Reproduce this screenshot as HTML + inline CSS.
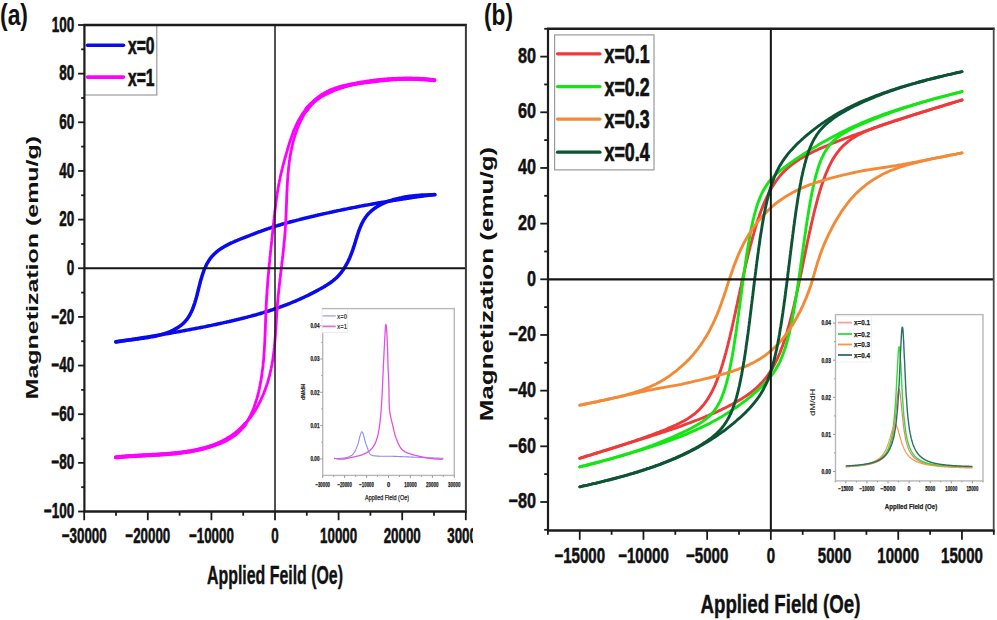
<!DOCTYPE html><html><head><meta charset="utf-8"><style>html,body{margin:0;padding:0;background:#fff;overflow:hidden}svg{display:block}text{font-family:"Liberation Sans",sans-serif}</style></head><body>
<svg width="997" height="620" viewBox="0 0 997 620">
<defs><clipPath id="ca"><rect x="0" y="0" width="473" height="620"/></clipPath></defs>
<rect width="997" height="620" fill="#fff"/>
<g clip-path="url(#ca)">
<path d="M115.9,342.0L116.9,341.9L118.0,341.7L119.0,341.5L120.1,341.4L121.1,341.2L122.2,341.0L123.3,340.8L124.3,340.7L125.4,340.5L126.4,340.3L127.5,340.2L128.5,340.0L129.6,339.8L130.7,339.7L131.7,339.5L132.8,339.3L133.8,339.2L134.9,339.0L136.0,338.8L137.0,338.7L138.1,338.5L139.2,338.3L140.2,338.1L141.3,338.0L142.3,337.8L143.4,337.6L144.5,337.5L145.5,337.3L146.6,337.1L147.7,336.9L148.7,336.8L149.8,336.6L150.8,336.4L151.9,336.2L153.0,336.1L154.0,335.9L155.1,335.7L156.2,335.5L157.2,335.4L158.3,335.2L159.4,335.0L160.4,334.8L161.5,334.6L162.6,334.5L163.6,334.3L164.7,334.1L165.8,333.9L166.8,333.7L167.9,333.5L168.9,333.4L170.0,333.2L171.1,333.0L172.1,332.8L173.2,332.6L174.3,332.4L175.3,332.2L176.4,332.1L177.5,331.9L178.5,331.7L179.6,331.5L180.7,331.3L181.7,331.1L182.8,330.9L183.8,330.7L184.9,330.5L186.0,330.3L187.0,330.1L188.1,329.9L189.2,329.7L190.2,329.5L191.3,329.3L192.3,329.1L193.4,328.9L194.5,328.7L195.5,328.5L196.6,328.3L197.6,328.1L198.7,327.9L199.8,327.7L200.8,327.5L201.9,327.3L202.9,327.1L204.0,326.9L205.1,326.7L206.1,326.4L207.2,326.2L208.2,326.0L209.3,325.8L210.3,325.6L211.4,325.4L212.4,325.1L213.5,324.9L214.5,324.7L215.6,324.5L216.7,324.2L217.7,324.0L218.8,323.8L219.8,323.6L220.9,323.3L221.9,323.1L223.0,322.9L224.0,322.6L225.0,322.4L226.1,322.2L227.1,321.9L228.2,321.7L229.2,321.5L230.3,321.2L231.3,321.0L232.4,320.7L233.4,320.5L234.4,320.3L235.5,320.0L236.5,319.8L237.6,319.5L238.6,319.3L239.6,319.0L240.7,318.8L241.7,318.5L242.8,318.2L243.8,318.0L244.8,317.7L245.9,317.4L246.9,317.2L247.9,316.9L249.0,316.6L250.0,316.4L251.0,316.1L252.1,315.8L253.1,315.5L254.1,315.2L255.1,315.0L256.2,314.7L257.2,314.4L258.2,314.1L259.3,313.8L260.3,313.5L261.3,313.2L262.3,312.9L263.4,312.6L264.4,312.3L265.4,312.0L266.4,311.6L267.5,311.3L268.5,311.0L269.5,310.7L270.5,310.3L271.5,310.0L272.6,309.7L273.6,309.3L274.6,309.0L275.6,308.6L276.6,308.3L277.6,307.9L278.7,307.6L279.7,307.2L280.7,306.8L281.7,306.5L282.7,306.1L283.7,305.7L284.8,305.3L285.8,305.0L286.8,304.6L287.8,304.2L288.8,303.8L289.8,303.4L290.8,303.0L291.8,302.5L292.8,302.1L293.9,301.7L294.9,301.3L295.9,300.9L296.9,300.4L297.9,300.0L298.9,299.5L299.9,299.1L300.9,298.6L301.9,298.2L302.9,297.7L303.9,297.3L304.9,296.8L305.9,296.3L306.9,295.8L307.9,295.4L308.9,294.9L309.8,294.4L310.8,293.9L311.8,293.4L312.8,292.9L313.8,292.4L314.7,291.9L315.7,291.4L316.6,290.9L317.6,290.4L318.6,289.8L319.5,289.3L320.5,288.8L321.4,288.3L322.3,287.7L323.3,287.2L324.2,286.6L325.1,286.1L326.0,285.5L326.9,285.0L327.8,284.4L328.7,283.8L329.6,283.2L330.4,282.7L331.3,282.0L332.1,281.4L332.9,280.8L333.7,280.1L334.5,279.5L335.3,278.8L336.1,278.1L336.8,277.4L337.5,276.7L338.2,276.0L338.9,275.2L339.6,274.5L340.2,273.7L340.9,272.9L341.5,272.1L342.1,271.3L342.7,270.5L343.3,269.6L343.9,268.8L344.4,267.9L345.0,267.0L345.5,266.1L346.0,265.2L346.5,264.3L347.0,263.4L347.5,262.5L348.0,261.5L348.4,260.6L348.9,259.6L349.3,258.7L349.8,257.7L350.2,256.7L350.6,255.7L351.0,254.7L351.4,253.7L351.8,252.7L352.1,251.7L352.5,250.6L352.9,249.6L353.2,248.5L353.6,247.5L353.9,246.4L354.3,245.4L354.6,244.3L354.9,243.2L355.3,242.1L355.6,241.1L355.9,240.0L356.2,238.9L356.6,237.9L356.9,236.8L357.2,235.7L357.6,234.6L357.9,233.6L358.3,232.5L358.6,231.5L359.0,230.5L359.4,229.4L359.8,228.4L360.2,227.4L360.6,226.4L361.0,225.4L361.5,224.4L361.9,223.5L362.4,222.5L362.9,221.6L363.4,220.7L363.9,219.8L364.5,218.9L365.1,218.0L365.6,217.2L366.3,216.3L366.9,215.5L367.6,214.7L368.2,214.0L368.9,213.2L369.7,212.5L370.4,211.8L371.2,211.1L371.9,210.4L372.7,209.8L373.6,209.2L374.4,208.5L375.2,207.9L376.1,207.4L377.0,206.8L377.9,206.2L378.8,205.7L379.7,205.2L380.7,204.7L381.6,204.2L382.6,203.7L383.6,203.3L384.6,202.8L385.6,202.4L386.6,202.0L387.6,201.6L388.6,201.2L389.7,200.9L390.7,200.5L391.8,200.2L392.8,199.8L393.9,199.5L395.0,199.2L396.1,198.9L397.1,198.6L398.2,198.4L399.3,198.1L400.4,197.9L401.6,197.7L402.7,197.4L403.8,197.2L404.9,197.0L406.0,196.8L407.1,196.7L408.2,196.5L409.4,196.3L410.5,196.2L411.6,196.0L412.7,195.9L413.8,195.8L414.9,195.7L416.0,195.6L417.1,195.5L418.2,195.4L419.3,195.3L420.4,195.2L421.5,195.1L422.6,195.1L423.7,195.0L424.7,195.0L425.8,194.9L426.8,194.9L427.9,194.9L428.9,194.8L429.9,194.8L430.9,194.8L431.9,194.8L432.9,194.8L433.9,194.8L434.9,194.8" fill="none" stroke="#0a0aee" stroke-width="3.50" stroke-linejoin="round" stroke-linecap="round" />
<path d="M115.9,341.7L116.9,341.5L117.8,341.4L118.7,341.3L119.7,341.1L120.7,341.0L121.6,340.9L122.6,340.8L123.6,340.6L124.7,340.5L125.7,340.4L126.8,340.3L127.8,340.2L128.9,340.0L129.9,339.9L131.0,339.8L132.1,339.7L133.2,339.5L134.3,339.4L135.4,339.3L136.6,339.1L137.7,339.0L138.8,338.9L139.9,338.7L141.1,338.6L142.2,338.4L143.4,338.2L144.5,338.1L145.6,337.9L146.8,337.7L147.9,337.5L149.1,337.3L150.2,337.1L151.3,336.9L152.5,336.7L153.6,336.5L154.7,336.2L155.9,336.0L157.0,335.7L158.1,335.4L159.2,335.2L160.3,334.9L161.4,334.6L162.5,334.3L163.5,333.9L164.6,333.6L165.7,333.2L166.7,332.9L167.7,332.5L168.8,332.1L169.8,331.7L170.8,331.3L171.7,330.8L172.7,330.4L173.7,329.9L174.6,329.4L175.5,328.9L176.4,328.4L177.3,327.9L178.2,327.3L179.1,326.7L179.9,326.1L180.7,325.5L181.5,324.9L182.3,324.2L183.0,323.6L183.8,322.9L184.5,322.1L185.2,321.4L185.8,320.7L186.5,319.9L187.1,319.1L187.7,318.2L188.3,317.4L188.8,316.5L189.3,315.7L189.9,314.8L190.4,313.8L190.8,312.9L191.3,312.0L191.7,311.0L192.2,310.0L192.6,309.0L193.0,308.0L193.4,307.0L193.7,306.0L194.1,305.0L194.5,303.9L194.8,302.9L195.1,301.8L195.4,300.7L195.8,299.6L196.1,298.6L196.4,297.5L196.7,296.4L197.0,295.3L197.3,294.2L197.5,293.0L197.8,291.9L198.1,290.8L198.4,289.7L198.6,288.6L198.9,287.5L199.2,286.4L199.5,285.2L199.8,284.1L200.1,283.0L200.3,281.9L200.6,280.8L200.9,279.7L201.3,278.6L201.6,277.6L201.9,276.5L202.2,275.4L202.6,274.4L202.9,273.3L203.3,272.3L203.6,271.3L204.0,270.2L204.4,269.2L204.8,268.2L205.3,267.3L205.7,266.3L206.2,265.4L206.6,264.4L207.1,263.5L207.6,262.6L208.2,261.7L208.7,260.8L209.3,260.0L209.8,259.1L210.4,258.3L211.1,257.5L211.7,256.7L212.4,255.9L213.1,255.2L213.8,254.5L214.5,253.8L215.3,253.1L216.0,252.4L216.8,251.7L217.6,251.1L218.4,250.4L219.3,249.8L220.1,249.2L221.0,248.6L221.9,248.1L222.8,247.5L223.7,247.0L224.6,246.4L225.6,245.9L226.5,245.4L227.5,244.9L228.4,244.4L229.4,243.9L230.4,243.4L231.4,242.9L232.4,242.5L233.4,242.0L234.4,241.6L235.4,241.1L236.5,240.7L237.5,240.3L238.5,239.8L239.6,239.4L240.6,239.0L241.6,238.6L242.7,238.2L243.7,237.8L244.7,237.4L245.8,237.0L246.8,236.6L247.8,236.2L248.9,235.8L249.9,235.4L250.9,235.0L251.9,234.6L253.0,234.2L254.0,233.8L255.0,233.4L256.1,233.0L257.1,232.6L258.1,232.2L259.1,231.8L260.1,231.5L261.2,231.1L262.2,230.7L263.2,230.4L264.2,230.0L265.3,229.6L266.3,229.3L267.3,228.9L268.3,228.6L269.4,228.2L270.4,227.9L271.4,227.5L272.4,227.2L273.5,226.9L274.5,226.5L275.5,226.2L276.5,225.9L277.6,225.6L278.6,225.3L279.6,225.0L280.7,224.7L281.7,224.3L282.7,224.0L283.8,223.8L284.8,223.5L285.9,223.2L286.9,222.9L287.9,222.6L289.0,222.3L290.0,222.0L291.0,221.7L292.1,221.5L293.1,221.2L294.2,220.9L295.2,220.7L296.3,220.4L297.3,220.1L298.3,219.9L299.4,219.6L300.4,219.3L301.5,219.1L302.5,218.8L303.6,218.5L304.6,218.3L305.7,218.0L306.7,217.8L307.8,217.5L308.8,217.3L309.9,217.0L310.9,216.8L312.0,216.5L313.0,216.3L314.1,216.0L315.1,215.8L316.2,215.5L317.2,215.3L318.3,215.0L319.3,214.8L320.4,214.6L321.5,214.3L322.5,214.1L323.6,213.8L324.6,213.6L325.7,213.4L326.7,213.1L327.8,212.9L328.9,212.7L329.9,212.4L331.0,212.2L332.0,212.0L333.1,211.7L334.2,211.5L335.2,211.3L336.3,211.1L337.4,210.8L338.4,210.6L339.5,210.4L340.5,210.2L341.6,209.9L342.7,209.7L343.7,209.5L344.8,209.3L345.9,209.1L346.9,208.9L348.0,208.6L349.1,208.4L350.1,208.2L351.2,208.0L352.3,207.8L353.3,207.6L354.4,207.4L355.5,207.2L356.5,207.0L357.6,206.8L358.7,206.6L359.7,206.3L360.8,206.1L361.9,205.9L363.0,205.7L364.0,205.5L365.1,205.3L366.2,205.1L367.2,204.9L368.3,204.8L369.4,204.6L370.4,204.4L371.5,204.2L372.6,204.0L373.7,203.8L374.7,203.6L375.8,203.4L376.9,203.2L377.9,203.0L379.0,202.8L380.1,202.7L381.2,202.5L382.2,202.3L383.3,202.1L384.4,201.9L385.4,201.8L386.5,201.6L387.6,201.4L388.7,201.2L389.7,201.0L390.8,200.9L391.9,200.7L393.0,200.5L394.0,200.3L395.1,200.2L396.2,200.0L397.2,199.8L398.3,199.7L399.4,199.5L400.5,199.3L401.5,199.2L402.6,199.0L403.7,198.8L404.8,198.7L405.8,198.5L406.9,198.3L408.0,198.2L409.0,198.0L410.1,197.9L411.2,197.7L412.3,197.6L413.3,197.4L414.4,197.2L415.5,197.1L416.5,196.9L417.6,196.8L418.7,196.6L419.8,196.5L420.8,196.3L421.9,196.2L423.0,196.0L424.0,195.9L425.1,195.7L426.2,195.6L427.3,195.5L428.3,195.3L429.4,195.2L430.5,195.0L431.5,194.9L432.6,194.8L433.7,194.6L434.7,194.5" fill="none" stroke="#0a0aee" stroke-width="3.50" stroke-linejoin="round" stroke-linecap="round" />
<path d="M115.8,457.4L116.9,457.3L118.0,457.2L119.1,457.1L120.2,457.0L121.3,456.9L122.4,456.8L123.6,456.7L124.7,456.6L125.8,456.5L127.0,456.5L128.1,456.4L129.3,456.3L130.4,456.2L131.6,456.2L132.8,456.1L133.9,456.0L135.1,456.0L136.3,455.9L137.5,455.8L138.7,455.8L139.9,455.7L141.1,455.7L142.3,455.6L143.5,455.5L144.7,455.5L146.0,455.4L147.2,455.4L148.4,455.3L149.6,455.2L150.9,455.2L152.1,455.1L153.3,455.0L154.6,455.0L155.8,454.9L157.0,454.8L158.3,454.8L159.5,454.7L160.8,454.6L162.0,454.5L163.2,454.4L164.5,454.3L165.7,454.2L167.0,454.1L168.2,454.0L169.5,453.9L170.7,453.8L172.0,453.7L173.2,453.6L174.5,453.5L175.7,453.3L176.9,453.2L178.2,453.0L179.4,452.9L180.7,452.7L181.9,452.6L183.1,452.4L184.3,452.2L185.6,452.1L186.8,451.9L188.0,451.7L189.2,451.5L190.4,451.3L191.7,451.0L192.9,450.8L194.1,450.6L195.3,450.3L196.5,450.1L197.7,449.8L198.8,449.5L200.0,449.3L201.2,449.0L202.4,448.7L203.5,448.4L204.7,448.1L205.8,447.7L207.0,447.4L208.1,447.0L209.3,446.7L210.4,446.3L211.5,445.9L212.6,445.5L213.8,445.1L214.9,444.7L215.9,444.3L217.0,443.8L218.1,443.4L219.2,442.9L220.2,442.4L221.3,441.9L222.3,441.4L223.4,440.9L224.4,440.3L225.4,439.8L226.4,439.2L227.4,438.6L228.4,438.1L229.4,437.4L230.4,436.8L231.4,436.2L232.3,435.5L233.2,434.9L234.2,434.2L235.1,433.5L236.0,432.8L236.9,432.0L237.8,431.3L238.7,430.5L239.5,429.7L240.4,428.9L241.2,428.1L242.1,427.3L242.9,426.5L243.7,425.6L244.5,424.8L245.3,423.9L246.0,423.0L246.8,422.1L247.6,421.2L248.3,420.3L249.0,419.3L249.8,418.4L250.5,417.4L251.2,416.5L251.9,415.5L252.5,414.5L253.2,413.5L253.9,412.5L254.5,411.5L255.2,410.4L255.8,409.4L256.4,408.4L257.0,407.3L257.6,406.2L258.2,405.2L258.7,404.1L259.3,403.0L259.9,401.9L260.4,400.8L260.9,399.7L261.4,398.6L261.9,397.5L262.4,396.4L262.9,395.3L263.4,394.1L263.9,393.0L264.3,391.8L264.8,390.7L265.2,389.6L265.6,388.4L266.0,387.2L266.4,386.1L266.8,384.9L267.2,383.8L267.6,382.6L267.9,381.4L268.3,380.3L268.6,379.1L268.9,377.9L269.2,376.7L269.6,375.6L269.8,374.4L270.1,373.2L270.4,372.0L270.7,370.9L270.9,369.7L271.2,368.5L271.4,367.3L271.6,366.1L271.9,365.0L272.1,363.8L272.3,362.6L272.5,361.4L272.7,360.2L272.9,359.0L273.0,357.8L273.2,356.7L273.4,355.5L273.5,354.3L273.7,353.1L273.8,351.9L274.0,350.7L274.1,349.5L274.2,348.3L274.4,347.2L274.5,346.0L274.6,344.8L274.7,343.6L274.8,342.4L274.9,341.2L275.0,340.0L275.1,338.8L275.2,337.6L275.3,336.4L275.4,335.2L275.5,334.1L275.5,332.9L275.6,331.7L275.7,330.5L275.8,329.3L275.9,328.1L275.9,326.9L276.0,325.7L276.1,324.5L276.2,323.3L276.2,322.1L276.3,320.9L276.4,319.8L276.4,318.6L276.5,317.4L276.6,316.2L276.7,315.0L276.7,313.8L276.8,312.6L276.9,311.4L277.0,310.2L277.1,309.1L277.2,307.9L277.3,306.7L277.3,305.5L277.4,304.3L277.5,303.1L277.6,301.9L277.8,300.8L277.9,299.6L278.0,298.4L278.1,297.2L278.2,296.0L278.3,294.9L278.4,293.7L278.6,292.5L278.7,291.3L278.8,290.1L278.9,289.0L279.1,287.8L279.2,286.6L279.3,285.4L279.4,284.2L279.6,283.1L279.7,281.9L279.8,280.7L280.0,279.5L280.1,278.3L280.3,277.2L280.4,276.0L280.5,274.8L280.7,273.6L280.8,272.4L281.0,271.3L281.1,270.1L281.2,268.9L281.4,267.7L281.5,266.5L281.7,265.4L281.8,264.2L281.9,263.0L282.1,261.8L282.2,260.6L282.4,259.4L282.5,258.3L282.6,257.1L282.8,255.9L282.9,254.7L283.0,253.5L283.2,252.3L283.3,251.1L283.4,250.0L283.5,248.8L283.7,247.6L283.8,246.4L283.9,245.2L284.0,244.0L284.1,242.8L284.3,241.6L284.4,240.4L284.5,239.2L284.6,238.0L284.7,236.8L284.8,235.6L284.9,234.4L285.0,233.2L285.1,232.0L285.2,230.8L285.3,229.6L285.3,228.4L285.4,227.2L285.5,226.0L285.6,224.8L285.6,223.6L285.7,222.4L285.8,221.2L285.8,219.9L285.9,218.7L286.0,217.5L286.0,216.3L286.1,215.1L286.1,213.9L286.2,212.7L286.2,211.4L286.3,210.2L286.3,209.0L286.3,207.8L286.4,206.6L286.4,205.3L286.5,204.1L286.5,202.9L286.6,201.7L286.6,200.5L286.7,199.2L286.7,198.0L286.7,196.8L286.8,195.6L286.8,194.4L286.9,193.1L286.9,191.9L287.0,190.7L287.1,189.5L287.1,188.3L287.2,187.1L287.2,185.8L287.3,184.6L287.4,183.4L287.4,182.2L287.5,181.0L287.6,179.8L287.7,178.6L287.8,177.4L287.9,176.2L287.9,175.0L288.0,173.8L288.2,172.6L288.3,171.4L288.4,170.2L288.5,169.0L288.6,167.8L288.7,166.6L288.9,165.4L289.0,164.2L289.2,163.0L289.3,161.8L289.5,160.6L289.7,159.4L289.8,158.3L290.0,157.1L290.2,155.9L290.4,154.7L290.6,153.6L290.8,152.4L291.0,151.2L291.3,150.1L291.5,148.9L291.7,147.8L292.0,146.6L292.3,145.5L292.5,144.3L292.8,143.2L293.1,142.0L293.4,140.9L293.7,139.7L294.0,138.6L294.4,137.5L294.7,136.4L295.1,135.2L295.4,134.1L295.8,133.0L296.2,131.9L296.6,130.8L297.0,129.7L297.4,128.6L297.8,127.5L298.3,126.4L298.7,125.3L299.2,124.2L299.7,123.1L300.2,122.1L300.7,121.0L301.2,119.9L301.7,118.9L302.3,117.8L302.8,116.7L303.4,115.7L304.0,114.7L304.6,113.6L305.2,112.6L305.9,111.6L306.5,110.6L307.2,109.6L307.9,108.6L308.6,107.6L309.3,106.7L310.1,105.8L310.8,104.8L311.6,103.9L312.4,103.1L313.2,102.2L314.0,101.4L314.9,100.5L315.7,99.7L316.6,99.0L317.5,98.2L318.5,97.5L319.4,96.8L320.4,96.1L321.3,95.4L322.3,94.7L323.3,94.1L324.4,93.5L325.4,92.9L326.4,92.4L327.5,91.8L328.6,91.3L329.6,90.8L330.7,90.3L331.8,89.8L332.9,89.4L334.1,89.0L335.2,88.5L336.3,88.2L337.5,87.8L338.6,87.4L339.8,87.1L341.0,86.8L342.2,86.5L343.3,86.2L344.5,85.9L345.7,85.6L346.9,85.3L348.1,85.1L349.3,84.9L350.5,84.6L351.8,84.4L353.0,84.2L354.2,84.0L355.4,83.8L356.6,83.6L357.9,83.4L359.1,83.3L360.3,83.1L361.5,82.9L362.8,82.8L364.0,82.6L365.2,82.4L366.4,82.3L367.6,82.1L368.9,82.0L370.1,81.8L371.3,81.7L372.5,81.5L373.7,81.4L374.9,81.2L376.1,81.1L377.3,80.9L378.5,80.8L379.7,80.7L380.9,80.5L382.1,80.4L383.3,80.3L384.5,80.2L385.7,80.0L386.9,79.9L388.1,79.8L389.2,79.7L390.4,79.6L391.6,79.5L392.8,79.4L394.0,79.3L395.2,79.2L396.4,79.2L397.5,79.1L398.7,79.0L399.9,79.0L401.1,78.9L402.3,78.9L403.5,78.8L404.6,78.8L405.8,78.7L407.0,78.7L408.2,78.7L409.4,78.7L410.6,78.7L411.7,78.7L412.9,78.7L414.1,78.7L415.3,78.7L416.5,78.8L417.7,78.8L418.8,78.8L420.0,78.9L421.2,79.0L422.4,79.0L423.6,79.1L424.8,79.2L426.0,79.3L427.2,79.4L428.4,79.5L429.6,79.6L430.8,79.8L432.0,79.9L433.2,80.1L434.4,80.2" fill="none" stroke="#ff00ff" stroke-width="2.8" stroke-linejoin="round" stroke-linecap="round"/>
<path d="M306.5,110.6L307.2,109.6L307.9,108.6L308.6,107.6L309.3,106.7L310.1,105.8L310.8,104.8L311.6,103.9L312.4,103.1L313.2,102.2L314.0,101.4L314.9,100.5L315.7,99.7L316.6,99.0L317.5,98.2L318.5,97.5L319.4,96.8L320.4,96.1L321.3,95.4L322.3,94.7L323.3,94.1L324.4,93.5L325.4,92.9L326.4,92.4L327.5,91.8L328.6,91.3L329.6,90.8L330.7,90.3L331.8,89.8L332.9,89.4L334.1,89.0L335.2,88.5L336.3,88.2L337.5,87.8L338.6,87.4L339.8,87.1L341.0,86.8L342.2,86.5L343.3,86.2L344.5,85.9L345.7,85.6L346.9,85.3L348.1,85.1L349.3,84.9L350.5,84.6L351.8,84.4L353.0,84.2L354.2,84.0L355.4,83.8L356.6,83.6L357.9,83.4L359.1,83.3L360.3,83.1L361.5,82.9L362.8,82.8L364.0,82.6L365.2,82.4L366.4,82.3L367.6,82.1L368.9,82.0L370.1,81.8L371.3,81.7L372.5,81.5L373.7,81.4L374.9,81.2L376.1,81.1L377.3,80.9L378.5,80.8L379.7,80.7L380.9,80.5L382.1,80.4L383.3,80.3L384.5,80.2L385.7,80.0L386.9,79.9L388.1,79.8L389.2,79.7L390.4,79.6L391.6,79.5L392.8,79.4L394.0,79.3L395.2,79.2L396.4,79.2L397.5,79.1L398.7,79.0L399.9,79.0L401.1,78.9L402.3,78.9L403.5,78.8L404.6,78.8L405.8,78.7L407.0,78.7L408.2,78.7L409.4,78.7L410.6,78.7L411.7,78.7L412.9,78.7L414.1,78.7L415.3,78.7L416.5,78.8L417.7,78.8L418.8,78.8L420.0,78.9L421.2,79.0L422.4,79.0L423.6,79.1L424.8,79.2L426.0,79.3L427.2,79.4L428.4,79.5L429.6,79.6L430.8,79.8L432.0,79.9L433.2,80.1L434.4,80.2" fill="none" stroke="#ff00ff" stroke-width="3.9" stroke-linejoin="round" stroke-linecap="round"/>
<path d="M115.8,457.4L116.9,457.3L118.0,457.2L119.1,457.1L120.2,457.0L121.3,456.9L122.4,456.8L123.6,456.7L124.7,456.6L125.8,456.5L127.0,456.5L128.1,456.4L129.3,456.3L130.4,456.2L131.6,456.2L132.8,456.1L133.9,456.0L135.1,456.0L136.3,455.9L137.5,455.8L138.7,455.8L139.9,455.7L141.1,455.7L142.3,455.6L143.5,455.5L144.7,455.5L146.0,455.4L147.2,455.4L148.4,455.3L149.6,455.2L150.9,455.2L152.1,455.1L153.3,455.0L154.6,455.0L155.8,454.9L157.0,454.8L158.3,454.8L159.5,454.7L160.8,454.6L162.0,454.5L163.2,454.4L164.5,454.3L165.7,454.2L167.0,454.1L168.2,454.0L169.5,453.9L170.7,453.8L172.0,453.7L173.2,453.6L174.5,453.5L175.7,453.3L176.9,453.2L178.2,453.0L179.4,452.9L180.7,452.7L181.9,452.6L183.1,452.4L184.3,452.2L185.6,452.1L186.8,451.9L188.0,451.7L189.2,451.5L190.4,451.3L191.7,451.0L192.9,450.8L194.1,450.6L195.3,450.3L196.5,450.1L197.7,449.8L198.8,449.5L200.0,449.3L201.2,449.0L202.4,448.7L203.5,448.4L204.7,448.1L205.8,447.7L207.0,447.4L208.1,447.0L209.3,446.7L210.4,446.3L211.5,445.9L212.6,445.5L213.8,445.1L214.9,444.7L215.9,444.3L217.0,443.8L218.1,443.4L219.2,442.9L220.2,442.4L221.3,441.9L222.3,441.4L223.4,440.9L224.4,440.3L225.4,439.8L226.4,439.2L227.4,438.6L228.4,438.1L229.4,437.4L230.4,436.8L231.4,436.2L232.3,435.5L233.2,434.9L234.2,434.2L235.1,433.5L236.0,432.8L236.9,432.0L237.8,431.3L238.7,430.5L239.5,429.7L240.4,428.9L241.2,428.1L242.1,427.3L242.9,426.5L243.7,425.6L244.5,424.8L245.3,423.9" fill="none" stroke="#ff00ff" stroke-width="3.9" stroke-linejoin="round" stroke-linecap="round"/>
<path d="M115.8,457.4L117.0,457.3L118.1,457.2L119.3,457.0L120.4,456.9L121.6,456.8L122.7,456.7L123.9,456.6L125.1,456.5L126.2,456.4L127.4,456.3L128.6,456.2L129.8,456.1L130.9,456.0L132.1,456.0L133.3,455.9L134.5,455.8L135.7,455.7L136.9,455.7L138.0,455.6L139.2,455.5L140.4,455.5L141.6,455.4L142.8,455.3L144.0,455.3L145.2,455.2L146.4,455.1L147.6,455.1L148.8,455.0L150.0,454.9L151.2,454.9L152.4,454.8L153.6,454.8L154.8,454.7L156.1,454.6L157.3,454.6L158.5,454.5L159.7,454.4L160.9,454.3L162.1,454.3L163.3,454.2L164.5,454.1L165.7,454.0L167.0,453.9L168.2,453.8L169.4,453.7L170.6,453.6L171.8,453.5L173.0,453.4L174.2,453.3L175.4,453.2L176.7,453.0L177.9,452.9L179.1,452.8L180.3,452.6L181.5,452.5L182.7,452.3L183.9,452.2L185.1,452.0L186.3,451.8L187.5,451.7L188.7,451.5L189.9,451.3L191.1,451.1L192.3,450.9L193.5,450.6L194.7,450.4L195.9,450.2L197.1,449.9L198.3,449.7L199.5,449.4L200.7,449.1L201.9,448.9L203.0,448.6L204.2,448.3L205.4,448.0L206.6,447.6L207.8,447.3L208.9,447.0L210.1,446.6L211.3,446.2L212.4,445.9L213.6,445.5L214.8,445.1L215.9,444.7L217.1,444.2L218.2,443.8L219.3,443.3L220.5,442.9L221.6,442.4L222.7,441.9L223.8,441.4L224.9,440.9L226.0,440.3L227.1,439.8L228.1,439.2L229.2,438.6L230.2,438.0L231.2,437.4L232.2,436.7L233.2,436.0L234.1,435.4L235.0,434.7L236.0,433.9L236.9,433.2L237.7,432.4L238.6,431.6L239.4,430.8L240.2,430.0L241.0,429.2L241.8,428.3L242.5,427.5L243.3,426.6L244.0,425.7L244.7,424.7L245.4,423.8L246.0,422.9L246.7,421.9L247.3,420.9L247.9,419.9L248.5,418.9L249.1,417.9L249.6,416.9L250.2,415.8L250.7,414.8L251.2,413.7L251.7,412.7L252.2,411.6L252.7,410.5L253.1,409.4L253.6,408.3L254.0,407.2L254.4,406.0L254.8,404.9L255.2,403.8L255.6,402.6L256.0,401.5L256.3,400.3L256.7,399.1L257.0,398.0L257.4,396.8L257.7,395.6L258.0,394.4L258.3,393.3L258.6,392.1L258.8,390.9L259.1,389.7L259.4,388.5L259.6,387.3L259.9,386.1L260.1,384.9L260.3,383.8L260.5,382.6L260.8,381.4L261.0,380.2L261.2,379.0L261.4,377.8L261.6,376.6L261.7,375.4L261.9,374.2L262.1,373.0L262.2,371.8L262.4,370.6L262.5,369.5L262.7,368.3L262.8,367.1L263.0,365.9L263.1,364.7L263.2,363.5L263.3,362.3L263.5,361.1L263.6,359.9L263.7,358.7L263.8,357.5L263.9,356.3L264.0,355.2L264.0,354.0L264.1,352.8L264.2,351.6L264.3,350.4L264.4,349.2L264.4,348.0L264.5,346.8L264.6,345.6L264.6,344.4L264.7,343.2L264.8,342.0L264.8,340.8L264.9,339.6L264.9,338.4L265.0,337.2L265.0,336.1L265.1,334.9L265.1,333.7L265.2,332.5L265.2,331.3L265.3,330.1L265.3,328.9L265.4,327.7L265.4,326.5L265.4,325.3L265.5,324.1L265.5,322.9L265.6,321.7L265.6,320.5L265.6,319.3L265.7,318.1L265.7,316.9L265.8,315.7L265.8,314.5L265.9,313.3L265.9,312.1L266.0,310.9L266.0,309.8L266.1,308.6L266.1,307.4L266.2,306.2L266.2,305.0L266.3,303.8L266.4,302.6L266.4,301.4L266.5,300.2L266.6,299.0L266.6,297.8L266.7,296.6L266.8,295.4L266.9,294.2L267.0,293.0L267.0,291.8L267.1,290.6L267.2,289.4L267.3,288.2L267.4,287.0L267.5,285.8L267.6,284.6L267.7,283.4L267.7,282.2L267.8,281.0L267.9,279.8L268.0,278.6L268.1,277.4L268.2,276.2L268.3,275.0L268.5,273.8L268.6,272.6L268.7,271.4L268.8,270.2L268.9,269.0L269.0,267.8L269.1,266.6L269.2,265.4L269.3,264.2L269.4,263.0L269.6,261.9L269.7,260.7L269.8,259.5L269.9,258.3L270.0,257.1L270.2,255.9L270.3,254.7L270.4,253.5L270.5,252.3L270.6,251.1L270.8,249.9L270.9,248.7L271.0,247.5L271.1,246.3L271.3,245.1L271.4,243.9L271.5,242.7L271.6,241.5L271.8,240.4L271.9,239.2L272.0,238.0L272.1,236.8L272.3,235.6L272.4,234.4L272.5,233.2L272.7,232.0L272.8,230.8L272.9,229.6L273.0,228.4L273.2,227.3L273.3,226.1L273.4,224.9L273.5,223.7L273.7,222.5L273.8,221.3L273.9,220.1L274.1,218.9L274.2,217.8L274.3,216.6L274.4,215.4L274.6,214.2L274.7,213.0L274.9,211.8L275.0,210.7L275.1,209.5L275.3,208.3L275.4,207.1L275.6,205.9L275.7,204.8L275.9,203.6L276.0,202.4L276.2,201.2L276.3,200.0L276.5,198.9L276.6,197.7L276.8,196.5L277.0,195.3L277.2,194.2L277.3,193.0L277.5,191.8L277.7,190.7L277.9,189.5L278.1,188.3L278.3,187.2L278.5,186.0L278.7,184.8L278.9,183.7L279.2,182.5L279.4,181.3L279.6,180.2L279.9,179.0L280.1,177.8L280.3,176.7L280.6,175.5L280.9,174.4L281.1,173.2L281.4,172.1L281.7,170.9L282.0,169.7L282.3,168.6L282.5,167.4L282.8,166.3L283.1,165.1L283.5,164.0L283.8,162.8L284.1,161.6L284.4,160.5L284.7,159.3L285.0,158.1L285.4,157.0L285.7,155.8L286.0,154.6L286.4,153.5L286.7,152.3L287.1,151.1L287.4,149.9L287.7,148.7L288.1,147.6L288.4,146.4L288.8,145.2L289.2,144.0L289.5,142.8L289.9,141.6L290.3,140.5L290.7,139.3L291.1,138.1L291.5,136.9L291.9,135.8L292.3,134.6L292.7,133.5L293.1,132.3L293.6,131.2L294.0,130.0L294.5,128.9L295.0,127.8L295.5,126.7L296.0,125.6L296.5,124.5L297.0,123.4L297.5,122.3L298.1,121.2L298.6,120.2L299.2,119.1L299.8,118.1L300.4,117.1L301.0,116.1L301.6,115.1L302.2,114.1L302.9,113.2L303.6,112.2L304.3,111.3L305.0,110.4L305.7,109.5L306.5,108.6L307.2,107.8L308.0,106.9L308.8,106.1L309.6,105.3L310.5,104.5L311.3,103.7L312.2,103.0L313.0,102.2L313.9,101.5L314.8,100.8L315.8,100.1L316.7,99.4L317.6,98.8L318.6,98.1L319.6,97.5L320.6,96.8L321.6,96.2L322.6,95.6L323.6,95.1L324.6,94.5L325.7,93.9L326.7,93.4L327.8,92.9L328.9,92.4L330.0,91.9L331.1,91.4L332.2,90.9L333.3,90.4L334.4,90.0L335.5,89.5L336.6,89.1L337.8,88.7L338.9,88.3L340.1,87.9L341.2,87.5L342.4,87.2L343.6,86.8L344.8,86.4L345.9,86.1L347.1,85.8L348.3,85.4L349.5,85.1L350.7,84.8L351.9,84.5L353.1,84.3L354.3,84.0L355.5,83.7L356.7,83.5L357.9,83.2L359.1,83.0L360.3,82.7L361.6,82.5L362.8,82.3L364.0,82.1L365.2,81.9L366.4,81.7L367.6,81.5L368.8,81.3L370.0,81.1L371.2,81.0L372.4,80.8L373.6,80.6L374.8,80.5L376.0,80.4L377.2,80.2L378.4,80.1L379.6,80.0L380.8,79.9L382.0,79.7L383.2,79.6L384.4,79.5L385.6,79.4L386.8,79.4L388.0,79.3L389.2,79.2L390.4,79.1L391.6,79.1L392.7,79.0L393.9,79.0L395.1,78.9L396.3,78.9L397.5,78.8L398.7,78.8L399.9,78.8L401.1,78.8L402.3,78.8L403.4,78.8L404.6,78.8L405.8,78.8L407.0,78.8L408.2,78.8L409.4,78.8L410.6,78.8L411.8,78.8L412.9,78.9L414.1,78.9L415.3,79.0L416.5,79.0L417.7,79.1L418.9,79.1L420.1,79.2L421.3,79.2L422.5,79.3L423.6,79.4L424.8,79.4L426.0,79.5L427.2,79.6L428.4,79.7L429.6,79.8L430.8,79.9L432.0,80.0L433.2,80.1L434.4,80.2" fill="none" stroke="#ff00ff" stroke-width="2.8" stroke-linejoin="round" stroke-linecap="round"/>
<path d="M306.5,108.6L307.2,107.8L308.0,106.9L308.8,106.1L309.6,105.3L310.5,104.5L311.3,103.7L312.2,103.0L313.0,102.2L313.9,101.5L314.8,100.8L315.8,100.1L316.7,99.4L317.6,98.8L318.6,98.1L319.6,97.5L320.6,96.8L321.6,96.2L322.6,95.6L323.6,95.1L324.6,94.5L325.7,93.9L326.7,93.4L327.8,92.9L328.9,92.4L330.0,91.9L331.1,91.4L332.2,90.9L333.3,90.4L334.4,90.0L335.5,89.5L336.6,89.1L337.8,88.7L338.9,88.3L340.1,87.9L341.2,87.5L342.4,87.2L343.6,86.8L344.8,86.4L345.9,86.1L347.1,85.8L348.3,85.4L349.5,85.1L350.7,84.8L351.9,84.5L353.1,84.3L354.3,84.0L355.5,83.7L356.7,83.5L357.9,83.2L359.1,83.0L360.3,82.7L361.6,82.5L362.8,82.3L364.0,82.1L365.2,81.9L366.4,81.7L367.6,81.5L368.8,81.3L370.0,81.1L371.2,81.0L372.4,80.8L373.6,80.6L374.8,80.5L376.0,80.4L377.2,80.2L378.4,80.1L379.6,80.0L380.8,79.9L382.0,79.7L383.2,79.6L384.4,79.5L385.6,79.4L386.8,79.4L388.0,79.3L389.2,79.2L390.4,79.1L391.6,79.1L392.7,79.0L393.9,79.0L395.1,78.9L396.3,78.9L397.5,78.8L398.7,78.8L399.9,78.8L401.1,78.8L402.3,78.8L403.4,78.8L404.6,78.8L405.8,78.8L407.0,78.8L408.2,78.8L409.4,78.8L410.6,78.8L411.8,78.8L412.9,78.9L414.1,78.9L415.3,79.0L416.5,79.0L417.7,79.1L418.9,79.1L420.1,79.2L421.3,79.2L422.5,79.3L423.6,79.4L424.8,79.4L426.0,79.5L427.2,79.6L428.4,79.7L429.6,79.8L430.8,79.9L432.0,80.0L433.2,80.1L434.4,80.2" fill="none" stroke="#ff00ff" stroke-width="3.9" stroke-linejoin="round" stroke-linecap="round"/>
<path d="M115.8,457.4L117.0,457.3L118.1,457.2L119.3,457.0L120.4,456.9L121.6,456.8L122.7,456.7L123.9,456.6L125.1,456.5L126.2,456.4L127.4,456.3L128.6,456.2L129.8,456.1L130.9,456.0L132.1,456.0L133.3,455.9L134.5,455.8L135.7,455.7L136.9,455.7L138.0,455.6L139.2,455.5L140.4,455.5L141.6,455.4L142.8,455.3L144.0,455.3L145.2,455.2L146.4,455.1L147.6,455.1L148.8,455.0L150.0,454.9L151.2,454.9L152.4,454.8L153.6,454.8L154.8,454.7L156.1,454.6L157.3,454.6L158.5,454.5L159.7,454.4L160.9,454.3L162.1,454.3L163.3,454.2L164.5,454.1L165.7,454.0L167.0,453.9L168.2,453.8L169.4,453.7L170.6,453.6L171.8,453.5L173.0,453.4L174.2,453.3L175.4,453.2L176.7,453.0L177.9,452.9L179.1,452.8L180.3,452.6L181.5,452.5L182.7,452.3L183.9,452.2L185.1,452.0L186.3,451.8L187.5,451.7L188.7,451.5L189.9,451.3L191.1,451.1L192.3,450.9L193.5,450.6L194.7,450.4L195.9,450.2L197.1,449.9L198.3,449.7L199.5,449.4L200.7,449.1L201.9,448.9L203.0,448.6L204.2,448.3L205.4,448.0L206.6,447.6L207.8,447.3L208.9,447.0L210.1,446.6L211.3,446.2L212.4,445.9L213.6,445.5L214.8,445.1L215.9,444.7L217.1,444.2L218.2,443.8L219.3,443.3L220.5,442.9L221.6,442.4L222.7,441.9L223.8,441.4L224.9,440.9L226.0,440.3L227.1,439.8L228.1,439.2L229.2,438.6L230.2,438.0L231.2,437.4L232.2,436.7L233.2,436.0L234.1,435.4L235.0,434.7L236.0,433.9L236.9,433.2L237.7,432.4L238.6,431.6L239.4,430.8L240.2,430.0L241.0,429.2L241.8,428.3L242.5,427.5L243.3,426.6L244.0,425.7L244.7,424.7L245.4,423.8" fill="none" stroke="#ff00ff" stroke-width="3.9" stroke-linejoin="round" stroke-linecap="round"/>
<line x1="84.4" y1="268.25" x2="465.9" y2="268.25" stroke="#141414" stroke-width="1.9"/>
<line x1="275.00" y1="25.0" x2="275.00" y2="511.5" stroke="#1a1a1a" stroke-width="1.5"/>
<rect x="84.6" y="25.5" width="72.2" height="69.5" fill="#fff" stroke="#999" stroke-width="1.2"/>
<line x1="87.5" y1="45.3" x2="123.5" y2="45.3" stroke="#0a0aee" stroke-width="3.6" stroke-linecap="round"/>
<line x1="87.5" y1="77.1" x2="123.5" y2="77.1" stroke="#ff00ff" stroke-width="3.6" stroke-linecap="round"/>
<text transform="translate(128.00,53.60)" font-size="23.70" font-weight="bold" text-anchor="start" fill="#111" textLength="26.50" lengthAdjust="spacingAndGlyphs" stroke="#111" stroke-width="0.70">x=0</text>
<text transform="translate(128.00,85.60)" font-size="23.70" font-weight="bold" text-anchor="start" fill="#111" textLength="26.50" lengthAdjust="spacingAndGlyphs" stroke="#111" stroke-width="0.70">x=1</text>
<path d="M83.4,25.0H466.9" stroke="#1c1c1c" stroke-width="2.6"/>
<path d="M83.4,511.5H466.9" stroke="#1c1c1c" stroke-width="2.6"/>
<path d="M84.4,25.0V511.5" stroke="#1c1c1c" stroke-width="2.2"/>
<path d="M465.9,25.0V511.5" stroke="#3a3a3a" stroke-width="2.0"/>
<line x1="78.1" y1="511.50" x2="84.4" y2="511.50" stroke="#1a1a1a" stroke-width="1.8"/>
<text transform="translate(74.20,518.10) scale(0.633,1)" font-size="21.30" font-weight="bold" text-anchor="end" fill="#111" stroke="#111" stroke-width="0.60">−100</text>
<line x1="81.2" y1="487.18" x2="84.4" y2="487.18" stroke="#1a1a1a" stroke-width="1.8"/>
<line x1="78.1" y1="462.85" x2="84.4" y2="462.85" stroke="#1a1a1a" stroke-width="1.8"/>
<text transform="translate(74.20,469.45) scale(0.633,1)" font-size="21.30" font-weight="bold" text-anchor="end" fill="#111" stroke="#111" stroke-width="0.60">−80</text>
<line x1="81.2" y1="438.52" x2="84.4" y2="438.52" stroke="#1a1a1a" stroke-width="1.8"/>
<line x1="78.1" y1="414.20" x2="84.4" y2="414.20" stroke="#1a1a1a" stroke-width="1.8"/>
<text transform="translate(74.20,420.80) scale(0.633,1)" font-size="21.30" font-weight="bold" text-anchor="end" fill="#111" stroke="#111" stroke-width="0.60">−60</text>
<line x1="81.2" y1="389.88" x2="84.4" y2="389.88" stroke="#1a1a1a" stroke-width="1.8"/>
<line x1="78.1" y1="365.55" x2="84.4" y2="365.55" stroke="#1a1a1a" stroke-width="1.8"/>
<text transform="translate(74.20,372.15) scale(0.633,1)" font-size="21.30" font-weight="bold" text-anchor="end" fill="#111" stroke="#111" stroke-width="0.60">−40</text>
<line x1="81.2" y1="341.23" x2="84.4" y2="341.23" stroke="#1a1a1a" stroke-width="1.8"/>
<line x1="78.1" y1="316.90" x2="84.4" y2="316.90" stroke="#1a1a1a" stroke-width="1.8"/>
<text transform="translate(74.20,323.50) scale(0.633,1)" font-size="21.30" font-weight="bold" text-anchor="end" fill="#111" stroke="#111" stroke-width="0.60">−20</text>
<line x1="81.2" y1="292.57" x2="84.4" y2="292.57" stroke="#1a1a1a" stroke-width="1.8"/>
<line x1="78.1" y1="268.25" x2="84.4" y2="268.25" stroke="#1a1a1a" stroke-width="1.8"/>
<text transform="translate(74.20,274.85) scale(0.633,1)" font-size="21.30" font-weight="bold" text-anchor="end" fill="#111" stroke="#111" stroke-width="0.60">0</text>
<line x1="81.2" y1="243.93" x2="84.4" y2="243.93" stroke="#1a1a1a" stroke-width="1.8"/>
<line x1="78.1" y1="219.60" x2="84.4" y2="219.60" stroke="#1a1a1a" stroke-width="1.8"/>
<text transform="translate(74.20,226.20) scale(0.633,1)" font-size="21.30" font-weight="bold" text-anchor="end" fill="#111" stroke="#111" stroke-width="0.60">20</text>
<line x1="81.2" y1="195.27" x2="84.4" y2="195.27" stroke="#1a1a1a" stroke-width="1.8"/>
<line x1="78.1" y1="170.95" x2="84.4" y2="170.95" stroke="#1a1a1a" stroke-width="1.8"/>
<text transform="translate(74.20,177.55) scale(0.633,1)" font-size="21.30" font-weight="bold" text-anchor="end" fill="#111" stroke="#111" stroke-width="0.60">40</text>
<line x1="81.2" y1="146.62" x2="84.4" y2="146.62" stroke="#1a1a1a" stroke-width="1.8"/>
<line x1="78.1" y1="122.30" x2="84.4" y2="122.30" stroke="#1a1a1a" stroke-width="1.8"/>
<text transform="translate(74.20,128.90) scale(0.633,1)" font-size="21.30" font-weight="bold" text-anchor="end" fill="#111" stroke="#111" stroke-width="0.60">60</text>
<line x1="81.2" y1="97.97" x2="84.4" y2="97.97" stroke="#1a1a1a" stroke-width="1.8"/>
<line x1="78.1" y1="73.65" x2="84.4" y2="73.65" stroke="#1a1a1a" stroke-width="1.8"/>
<text transform="translate(74.20,80.25) scale(0.633,1)" font-size="21.30" font-weight="bold" text-anchor="end" fill="#111" stroke="#111" stroke-width="0.60">80</text>
<line x1="81.2" y1="49.32" x2="84.4" y2="49.32" stroke="#1a1a1a" stroke-width="1.8"/>
<line x1="78.1" y1="25.00" x2="84.4" y2="25.00" stroke="#1a1a1a" stroke-width="1.8"/>
<text transform="translate(74.20,31.60) scale(0.633,1)" font-size="21.30" font-weight="bold" text-anchor="end" fill="#111" stroke="#111" stroke-width="0.60">100</text>
<line x1="84.20" y1="511.5" x2="84.20" y2="520.2" stroke="#1a1a1a" stroke-width="1.8"/>
<text transform="translate(84.20,543.40) scale(0.607,1)" font-size="22.00" font-weight="bold" text-anchor="middle" fill="#111" stroke="#111" stroke-width="0.60">−30000</text>
<line x1="116.00" y1="511.5" x2="116.00" y2="515.7" stroke="#1a1a1a" stroke-width="1.8"/>
<line x1="147.80" y1="511.5" x2="147.80" y2="520.2" stroke="#1a1a1a" stroke-width="1.8"/>
<text transform="translate(147.80,543.40) scale(0.607,1)" font-size="22.00" font-weight="bold" text-anchor="middle" fill="#111" stroke="#111" stroke-width="0.60">−20000</text>
<line x1="179.60" y1="511.5" x2="179.60" y2="515.7" stroke="#1a1a1a" stroke-width="1.8"/>
<line x1="211.40" y1="511.5" x2="211.40" y2="520.2" stroke="#1a1a1a" stroke-width="1.8"/>
<text transform="translate(211.40,543.40) scale(0.607,1)" font-size="22.00" font-weight="bold" text-anchor="middle" fill="#111" stroke="#111" stroke-width="0.60">−10000</text>
<line x1="243.20" y1="511.5" x2="243.20" y2="515.7" stroke="#1a1a1a" stroke-width="1.8"/>
<line x1="275.00" y1="511.5" x2="275.00" y2="520.2" stroke="#1a1a1a" stroke-width="1.8"/>
<text transform="translate(275.00,543.40) scale(0.607,1)" font-size="22.00" font-weight="bold" text-anchor="middle" fill="#111" stroke="#111" stroke-width="0.60">0</text>
<line x1="306.80" y1="511.5" x2="306.80" y2="515.7" stroke="#1a1a1a" stroke-width="1.8"/>
<line x1="338.60" y1="511.5" x2="338.60" y2="520.2" stroke="#1a1a1a" stroke-width="1.8"/>
<text transform="translate(338.60,543.40) scale(0.607,1)" font-size="22.00" font-weight="bold" text-anchor="middle" fill="#111" stroke="#111" stroke-width="0.60">10000</text>
<line x1="370.40" y1="511.5" x2="370.40" y2="515.7" stroke="#1a1a1a" stroke-width="1.8"/>
<line x1="402.20" y1="511.5" x2="402.20" y2="520.2" stroke="#1a1a1a" stroke-width="1.8"/>
<text transform="translate(402.20,543.40) scale(0.607,1)" font-size="22.00" font-weight="bold" text-anchor="middle" fill="#111" stroke="#111" stroke-width="0.60">20000</text>
<line x1="434.00" y1="511.5" x2="434.00" y2="515.7" stroke="#1a1a1a" stroke-width="1.8"/>
<line x1="465.80" y1="511.5" x2="465.80" y2="520.2" stroke="#1a1a1a" stroke-width="1.8"/>
<text transform="translate(465.80,543.40) scale(0.607,1)" font-size="22.00" font-weight="bold" text-anchor="middle" fill="#111" stroke="#111" stroke-width="0.60">30000</text>
<rect x="322.7" y="308.6" width="131.6" height="166.8" fill="none" stroke="#b8b8b8" stroke-width="1.4"/>
<line x1="320.2" y1="458.9" x2="322.7" y2="458.9" stroke="#999" stroke-width="1"/>
<text transform="translate(319.50,461.10)" font-size="6.50" font-weight="bold" text-anchor="end" fill="#222" textLength="9.00" lengthAdjust="spacingAndGlyphs" stroke="#222" stroke-width="0.25">0.00</text>
<line x1="321.2" y1="442.2" x2="322.7" y2="442.2" stroke="#999" stroke-width="1"/>
<line x1="320.2" y1="425.6" x2="322.7" y2="425.6" stroke="#999" stroke-width="1"/>
<text transform="translate(319.50,427.80)" font-size="6.50" font-weight="bold" text-anchor="end" fill="#222" textLength="9.00" lengthAdjust="spacingAndGlyphs" stroke="#222" stroke-width="0.25">0.01</text>
<line x1="321.2" y1="408.9" x2="322.7" y2="408.9" stroke="#999" stroke-width="1"/>
<line x1="320.2" y1="392.3" x2="322.7" y2="392.3" stroke="#999" stroke-width="1"/>
<text transform="translate(319.50,394.50)" font-size="6.50" font-weight="bold" text-anchor="end" fill="#222" textLength="9.00" lengthAdjust="spacingAndGlyphs" stroke="#222" stroke-width="0.25">0.02</text>
<line x1="321.2" y1="375.6" x2="322.7" y2="375.6" stroke="#999" stroke-width="1"/>
<line x1="320.2" y1="359.0" x2="322.7" y2="359.0" stroke="#999" stroke-width="1"/>
<text transform="translate(319.50,361.20)" font-size="6.50" font-weight="bold" text-anchor="end" fill="#222" textLength="9.00" lengthAdjust="spacingAndGlyphs" stroke="#222" stroke-width="0.25">0.03</text>
<line x1="321.2" y1="342.3" x2="322.7" y2="342.3" stroke="#999" stroke-width="1"/>
<line x1="320.2" y1="325.7" x2="322.7" y2="325.7" stroke="#999" stroke-width="1"/>
<text transform="translate(319.50,327.90)" font-size="6.50" font-weight="bold" text-anchor="end" fill="#222" textLength="9.00" lengthAdjust="spacingAndGlyphs" stroke="#222" stroke-width="0.25">0.04</text>
<line x1="322.7" y1="475.4" x2="322.7" y2="477.9" stroke="#999" stroke-width="1"/>
<text transform="translate(322.70,487.30)" font-size="6.60" font-weight="bold" text-anchor="middle" fill="#222" textLength="14.50" lengthAdjust="spacingAndGlyphs" stroke="#222" stroke-width="0.25">−30000</text>
<line x1="333.7" y1="475.4" x2="333.7" y2="476.9" stroke="#999" stroke-width="1"/>
<line x1="344.6" y1="475.4" x2="344.6" y2="477.9" stroke="#999" stroke-width="1"/>
<text transform="translate(344.63,487.30)" font-size="6.60" font-weight="bold" text-anchor="middle" fill="#222" textLength="14.50" lengthAdjust="spacingAndGlyphs" stroke="#222" stroke-width="0.25">−20000</text>
<line x1="355.6" y1="475.4" x2="355.6" y2="476.9" stroke="#999" stroke-width="1"/>
<line x1="366.6" y1="475.4" x2="366.6" y2="477.9" stroke="#999" stroke-width="1"/>
<text transform="translate(366.57,487.30)" font-size="6.60" font-weight="bold" text-anchor="middle" fill="#222" textLength="14.50" lengthAdjust="spacingAndGlyphs" stroke="#222" stroke-width="0.25">−10000</text>
<line x1="377.5" y1="475.4" x2="377.5" y2="476.9" stroke="#999" stroke-width="1"/>
<line x1="388.5" y1="475.4" x2="388.5" y2="477.9" stroke="#999" stroke-width="1"/>
<text transform="translate(388.50,487.30)" font-size="6.60" font-weight="bold" text-anchor="middle" fill="#222" textLength="3.20" lengthAdjust="spacingAndGlyphs" stroke="#222" stroke-width="0.25">0</text>
<line x1="399.5" y1="475.4" x2="399.5" y2="476.9" stroke="#999" stroke-width="1"/>
<line x1="410.4" y1="475.4" x2="410.4" y2="477.9" stroke="#999" stroke-width="1"/>
<text transform="translate(410.43,487.30)" font-size="6.60" font-weight="bold" text-anchor="middle" fill="#222" textLength="12.50" lengthAdjust="spacingAndGlyphs" stroke="#222" stroke-width="0.25">10000</text>
<line x1="421.4" y1="475.4" x2="421.4" y2="476.9" stroke="#999" stroke-width="1"/>
<line x1="432.4" y1="475.4" x2="432.4" y2="477.9" stroke="#999" stroke-width="1"/>
<text transform="translate(432.37,487.30)" font-size="6.60" font-weight="bold" text-anchor="middle" fill="#222" textLength="12.50" lengthAdjust="spacingAndGlyphs" stroke="#222" stroke-width="0.25">20000</text>
<line x1="443.3" y1="475.4" x2="443.3" y2="476.9" stroke="#999" stroke-width="1"/>
<line x1="454.3" y1="475.4" x2="454.3" y2="477.9" stroke="#999" stroke-width="1"/>
<text transform="translate(454.30,487.30)" font-size="6.60" font-weight="bold" text-anchor="middle" fill="#222" textLength="12.50" lengthAdjust="spacingAndGlyphs" stroke="#222" stroke-width="0.25">30000</text>
<text transform="translate(365.00,500.00)" font-size="7.00" font-weight="normal" text-anchor="start" fill="#222" textLength="44.00" lengthAdjust="spacingAndGlyphs" stroke="#222" stroke-width="0.25">Applied Field (Oe)</text>
<text transform="translate(304.50,392.00) rotate(-90)" font-size="5.50" font-weight="bold" text-anchor="middle" fill="#222" textLength="16.00" lengthAdjust="spacingAndGlyphs" stroke="#222" stroke-width="0.20">dM/dH</text>
<path d="M334.0,458.6L334.4,458.6L334.8,458.6L335.2,458.6L335.6,458.5L336.1,458.5L336.5,458.5L337.0,458.5L337.4,458.5L337.9,458.5L338.4,458.5L338.9,458.5L339.3,458.5L339.8,458.4L340.3,458.4L340.8,458.4L341.3,458.3L341.8,458.3L342.3,458.3L342.8,458.2L343.3,458.1L343.8,458.1L344.3,458.0L344.8,457.9L345.3,457.8L345.8,457.7L346.3,457.6L346.8,457.5L347.3,457.4L347.7,457.2L348.2,457.1L348.7,456.9L349.1,456.7L349.6,456.5L350.0,456.3L350.4,456.1L350.8,455.9L351.2,455.6L351.6,455.4L352.0,455.1L352.3,454.8L352.6,454.5L353.0,454.1L353.3,453.8L353.6,453.4L353.9,453.0L354.1,452.6L354.4,452.2L354.6,451.8L354.9,451.4L355.1,451.0L355.3,450.5L355.5,450.1L355.7,449.7L355.9,449.2L356.1,448.8L356.3,448.4L356.4,448.0L356.6,447.6L356.8,447.2L356.9,446.8L357.1,446.4L357.3,445.9L357.4,445.5L357.6,445.1L357.7,444.6L357.9,444.2L358.0,443.7L358.2,443.2L358.3,442.7L358.5,442.2L358.6,441.6L358.8,441.0L358.9,440.5L359.0,439.9L359.2,439.3L359.3,438.7L359.5,438.0L359.6,437.4L359.8,436.8L359.9,436.3L360.1,435.7L360.2,435.2L360.4,434.7L360.5,434.2L360.7,433.7L360.8,433.3L361.0,432.9L361.1,432.6L361.3,432.3L361.4,432.1L361.6,431.9L361.7,431.8L361.9,431.8L362.0,431.8L362.2,431.9L362.3,432.1L362.5,432.3L362.6,432.6L362.8,432.9L362.9,433.3L363.1,433.7L363.2,434.2L363.4,434.6L363.5,435.2L363.7,435.7L363.8,436.3L364.0,436.8L364.1,437.4L364.3,438.0L364.4,438.6L364.6,439.2L364.7,439.8L364.9,440.4L365.0,441.0L365.2,441.6L365.3,442.1L365.5,442.6L365.7,443.1L365.8,443.6L366.0,444.1L366.1,444.5L366.3,445.0L366.5,445.4L366.6,445.8L366.8,446.2L366.9,446.6L367.1,447.1L367.3,447.5L367.4,447.9L367.6,448.3L367.7,448.8L367.9,449.2L368.0,449.7L368.2,450.1L368.3,450.6L368.5,451.1L368.7,451.6L368.8,452.0L369.0,452.5L369.3,452.9L369.5,453.3L369.8,453.7L370.0,454.0L370.3,454.4L370.7,454.6L371.0,454.9L371.4,455.1L371.9,455.3L372.3,455.4L372.8,455.6L373.2,455.7L373.7,455.8L374.2,455.8L374.7,455.9L375.2,455.9L375.7,456.0L376.2,456.0L376.7,456.0L377.2,456.1L377.7,456.1L378.2,456.1L378.7,456.1L379.2,456.2L379.7,456.2L380.2,456.2L380.6,456.2L381.1,456.2L381.6,456.2L382.1,456.2L382.5,456.2L383.0,456.2L383.5,456.3L383.9,456.3L384.4,456.3L384.9,456.3L385.3,456.3L385.8,456.3L386.2,456.3L386.7,456.3L387.2,456.3L387.6,456.3L388.1,456.3L388.5,456.3L389.0,456.3L389.5,456.3L389.9,456.3L390.4,456.3L390.9,456.3L391.3,456.3L391.8,456.3L392.2,456.3L392.7,456.3L393.2,456.4L393.6,456.4L394.1,456.4L394.6,456.4L395.1,456.4L395.5,456.4L396.0,456.4L396.5,456.4L396.9,456.5L397.4,456.5L397.9,456.5L398.4,456.5L398.8,456.5L399.3,456.5L399.8,456.6L400.3,456.6L400.7,456.6L401.2,456.6L401.7,456.6L402.2,456.7L402.6,456.7L403.1,456.7L403.6,456.7L404.1,456.7L404.5,456.8L405.0,456.8L405.5,456.8L406.0,456.8L406.4,456.8L406.9,456.9L407.4,456.9L407.9,456.9L408.3,456.9L408.8,456.9L409.3,457.0L409.8,457.0L410.2,457.0L410.7,457.0L411.2,457.1L411.7,457.1L412.1,457.1L412.6,457.1L413.1,457.1L413.6,457.2L414.0,457.2L414.5,457.2L415.0,457.2L415.5,457.2L415.9,457.3L416.4,457.3L416.9,457.3L417.3,457.3L417.8,457.3L418.3,457.3L418.8,457.4L419.2,457.4L419.7,457.4L420.2,457.4L420.6,457.4L421.1,457.5L421.6,457.5L422.1,457.5L422.5,457.5L423.0,457.5L423.5,457.6L423.9,457.6L424.4,457.6L424.9,457.6L425.4,457.6L425.8,457.6L426.3,457.7L426.8,457.7L427.2,457.7L427.7,457.7L428.2,457.7L428.7,457.7L429.1,457.8L429.6,457.8L430.1,457.8L430.5,457.8L431.0,457.8L431.5,457.9L432.0,457.9L432.4,457.9L432.9,457.9L433.4,457.9L433.8,457.9L434.3,458.0L434.8,458.0L435.3,458.0L435.7,458.0L436.2,458.0L436.7,458.1L437.1,458.1L437.6,458.1L438.1,458.1L438.6,458.1L439.0,458.1L439.5,458.2L440.0,458.2L440.5,458.2L440.9,458.2L441.4,458.2L441.9,458.2L442.4,458.3L442.8,458.3L443.3,458.3" fill="none" stroke="#8c8cf0" stroke-width="1.1" stroke-linejoin="round"/>
<path d="M334.0,458.0L335.1,458.4L336.2,458.7L337.3,458.9L338.4,459.1L339.5,459.2L340.6,459.2L341.7,459.2L342.8,459.1L344.0,459.0L345.1,458.8L346.2,458.6L347.3,458.4L348.4,458.1L349.5,457.9L350.6,457.6L351.7,457.4L352.8,457.1L353.9,456.9L355.0,456.6L356.1,456.4L357.2,456.1L358.3,455.9L359.4,455.6L360.5,455.3L361.6,454.9L362.6,454.6L363.7,454.2L364.7,453.7L365.8,453.2L366.8,452.6L367.7,452.0L368.7,451.4L369.6,450.7L370.4,450.0L371.2,449.2L372.0,448.4L372.7,447.5L373.3,446.6L373.9,445.6L374.5,444.6L375.0,443.6L375.5,442.6L375.9,441.5L376.3,440.5L376.7,439.4L377.1,438.3L377.4,437.2L377.7,436.1L377.9,435.0L378.2,433.9L378.4,432.8L378.6,431.7L378.8,430.6L379.0,429.5L379.2,428.4L379.3,427.3L379.5,426.2L379.6,425.1L379.8,423.9L379.9,422.8L380.0,421.7L380.2,420.6L380.3,419.5L380.4,418.4L380.5,417.3L380.6,416.2L380.7,415.1L380.8,413.9L380.9,412.8L381.0,411.7L381.1,410.6L381.2,409.4L381.3,408.3L381.3,407.2L381.4,406.0L381.5,404.9L381.6,403.7L381.7,402.6L381.7,401.4L381.8,400.3L381.9,399.1L381.9,398.0L382.0,396.8L382.1,395.6L382.1,394.5L382.2,393.3L382.2,392.2L382.3,391.0L382.3,389.8L382.4,388.7L382.5,387.5L382.5,386.4L382.6,385.2L382.6,384.1L382.7,383.0L382.7,381.9L382.7,380.7L382.8,379.6L382.8,378.5L382.9,377.4L382.9,376.3L383.0,375.3L383.0,374.2L383.1,373.2L383.1,372.1L383.2,371.1L383.2,370.1L383.2,369.1L383.3,368.1L383.3,367.1L383.4,366.1L383.4,365.1L383.5,364.1L383.5,363.2L383.6,362.2L383.6,361.2L383.7,360.2L383.7,359.2L383.8,358.2L383.8,357.2L383.9,356.2L383.9,355.1L384.0,354.1L384.0,353.0L384.1,351.8L384.1,350.7L384.2,349.5L384.3,348.3L384.3,347.1L384.4,345.8L384.5,344.5L384.5,343.1L384.6,341.8L384.7,340.3L384.8,338.8L384.8,337.3L384.9,335.7L385.0,334.2L385.1,332.6L385.2,331.1L385.3,329.7L385.4,328.4L385.4,327.2L385.5,326.2L385.6,325.4L385.7,324.9L385.8,324.5L385.9,324.5L386.0,324.8L386.2,325.3L386.3,326.1L386.4,327.1L386.5,328.2L386.6,329.5L386.7,330.9L386.8,332.4L386.9,333.9L387.0,335.5L387.0,337.0L387.1,338.5L387.2,340.0L387.3,341.4L387.3,342.8L387.4,344.1L387.4,345.4L387.5,346.6L387.5,347.8L387.6,349.0L387.6,350.1L387.6,351.2L387.7,352.3L387.7,353.3L387.7,354.4L387.7,355.4L387.8,356.4L387.8,357.4L387.8,358.4L387.8,359.4L387.9,360.4L387.9,361.3L387.9,362.3L387.9,363.3L388.0,364.3L388.0,365.3L388.0,366.4L388.1,367.4L388.1,368.5L388.2,369.6L388.2,370.6L388.3,371.7L388.3,372.8L388.4,373.9L388.4,375.1L388.5,376.2L388.5,377.3L388.6,378.5L388.6,379.6L388.7,380.8L388.7,381.9L388.8,383.1L388.8,384.2L388.8,385.4L388.9,386.6L388.9,387.7L388.9,388.9L389.0,390.1L389.0,391.2L389.0,392.4L389.0,393.5L389.0,394.7L389.0,395.8L389.1,397.0L389.1,398.1L389.1,399.2L389.1,400.4L389.1,401.5L389.2,402.6L389.2,403.7L389.2,404.8L389.3,406.0L389.4,407.1L389.4,408.2L389.5,409.3L389.6,410.4L389.8,411.5L389.9,412.6L390.1,413.7L390.3,414.8L390.5,415.9L390.7,417.0L390.9,418.1L391.2,419.2L391.5,420.3L391.7,421.4L392.0,422.5L392.3,423.6L392.6,424.7L392.8,425.8L393.1,426.9L393.3,428.0L393.6,429.1L393.8,430.2L394.1,431.3L394.4,432.4L394.6,433.4L394.9,434.5L395.2,435.6L395.6,436.7L395.9,437.7L396.3,438.8L396.7,439.8L397.1,440.9L397.6,441.9L398.0,443.0L398.5,444.0L399.0,445.0L399.5,446.0L400.1,447.0L400.7,448.0L401.4,448.8L402.1,449.6L403.0,450.4L403.9,451.0L404.8,451.6L405.8,452.2L406.9,452.7L407.9,453.1L409.0,453.5L410.1,453.9L411.2,454.2L412.3,454.5L413.4,454.8L414.4,455.1L415.5,455.4L416.6,455.6L417.7,455.9L418.8,456.1L419.9,456.4L421.0,456.6L422.1,456.9L423.2,457.1L424.3,457.3L425.4,457.5L426.5,457.8L427.6,458.0L428.7,458.1L429.8,458.3L430.9,458.5L432.1,458.6L433.2,458.8L434.3,458.9L435.4,459.0L436.5,459.1L437.7,459.2L438.8,459.2L439.9,459.3L441.0,459.3L442.2,459.2L443.3,459.2" fill="none" stroke="#e450e4" stroke-width="1.3" stroke-linejoin="round"/>
<rect x="322" y="309.5" width="25.5" height="23" fill="#fff" stroke="#e8e8e8" stroke-width="0.8"/>
<line x1="322.5" y1="315.9" x2="335.7" y2="315.9" stroke="#aab0f0" stroke-width="1.5"/>
<line x1="322.5" y1="326.4" x2="335.7" y2="326.4" stroke="#e070e0" stroke-width="1.8"/>
<text transform="translate(337.00,318.50)" font-size="6.50" font-weight="bold" text-anchor="start" fill="#444" textLength="10.00" lengthAdjust="spacingAndGlyphs">x=0</text>
<text transform="translate(337.00,329.00)" font-size="6.50" font-weight="bold" text-anchor="start" fill="#444" textLength="10.00" lengthAdjust="spacingAndGlyphs">x=1</text>
</g>
<text transform="translate(207.00,583.60)" font-size="25.00" font-weight="bold" text-anchor="start" fill="#111" textLength="136.00" lengthAdjust="spacingAndGlyphs" stroke="#111" stroke-width="0.40">Applied Feild (Oe)</text>
<text transform="translate(38.40,399.40) rotate(-90)" font-size="16.00" font-weight="bold" text-anchor="start" fill="#111" textLength="263.50" lengthAdjust="spacingAndGlyphs">Magnetization (emu/g)</text>
<text transform="translate(0.00,24.50)" font-size="30.00" font-weight="bold" text-anchor="start" fill="#111" textLength="28.00" lengthAdjust="spacingAndGlyphs">(a)</text>
<path d="M579.8,458.3L581.7,457.7L583.6,457.1L585.5,456.5L587.4,455.9L589.3,455.4L591.2,454.8L593.1,454.2L595.0,453.6L596.9,453.0L598.8,452.4L600.7,451.8L602.6,451.2L604.5,450.6L606.4,450.1L608.3,449.5L610.2,448.9L612.1,448.3L614.0,447.7L615.9,447.1L617.8,446.5L619.7,445.9L621.7,445.3L623.6,444.7L625.5,444.1L627.4,443.5L629.3,442.9L631.2,442.3L633.1,441.7L635.0,441.1L636.9,440.5L638.8,439.9L640.7,439.3L642.6,438.8L644.5,438.2L646.4,437.6L648.3,437.0L650.2,436.4L652.1,435.7L654.0,435.1L655.9,434.5L657.8,433.9L659.7,433.3L661.6,432.7L663.5,432.1L665.4,431.5L667.3,430.8L669.2,430.2L671.0,429.6L672.9,428.9L674.8,428.3L676.7,427.6L678.6,427.0L680.5,426.3L682.3,425.6L684.2,424.9L686.1,424.2L687.9,423.5L689.8,422.8L691.7,422.1L693.5,421.4L695.4,420.7L697.3,420.0L699.1,419.3L701.0,418.5L702.8,417.8L704.7,417.0L706.5,416.2L708.3,415.5L710.2,414.7L712.0,413.9L713.8,413.1L715.7,412.3L717.5,411.5L719.3,410.6L721.1,409.8L722.9,408.9L724.7,408.1L726.5,407.2L728.3,406.3L730.0,405.4L731.8,404.5L733.5,403.5L735.3,402.5L737.0,401.6L738.7,400.6L740.5,399.5L742.2,398.5L743.8,397.4L745.5,396.3L747.1,395.2L748.8,394.0L750.4,392.8L751.9,391.6L753.5,390.4L755.0,389.1L756.5,387.8L758.0,386.4L759.4,385.0L760.8,383.6L762.2,382.2L763.5,380.7L764.8,379.1L766.0,377.6L767.2,376.0L768.4,374.4L769.5,372.7L770.6,371.1L771.7,369.4L772.7,367.7L773.7,365.9L774.6,364.2L775.5,362.4L776.4,360.6L777.3,358.8L778.1,357.0L778.9,355.2L779.7,353.3L780.4,351.5L781.1,349.6L781.8,347.8L782.5,345.9L783.2,344.0L783.9,342.1L784.5,340.2L785.1,338.3L785.7,336.4L786.3,334.5L786.9,332.6L787.4,330.7L788.0,328.8L788.5,326.9L789.1,325.0L789.6,323.0L790.1,321.1L790.6,319.2L791.1,317.2L791.6,315.3L792.1,313.4L792.6,311.4L793.0,309.5L793.5,307.6L794.0,305.6L794.4,303.7L794.9,301.7L795.3,299.8L795.7,297.9L796.2,295.9L796.6,294.0L797.0,292.0L797.5,290.1L797.9,288.1L798.3,286.2L798.7,284.2L799.1,282.3L799.5,280.3L799.9,278.4L800.4,276.4L800.8,274.5L801.2,272.5L801.6,270.6L802.0,268.6L802.4,266.6L802.8,264.7L803.2,262.7L803.6,260.8L804.0,258.8L804.4,256.9L804.8,254.9L805.2,253.0L805.6,251.0L806.0,249.1L806.4,247.1L806.8,245.2L807.2,243.2L807.6,241.3L808.0,239.3L808.5,237.4L808.9,235.4L809.3,233.5L809.7,231.5L810.2,229.6L810.6,227.6L811.0,225.7L811.5,223.7L811.9,221.8L812.4,219.8L812.8,217.9L813.3,216.0L813.7,214.0L814.2,212.1L814.7,210.2L815.2,208.2L815.7,206.3L816.2,204.4L816.7,202.4L817.2,200.5L817.7,198.6L818.2,196.7L818.8,194.7L819.4,192.8L819.9,190.9L820.5,189.0L821.1,187.1L821.7,185.2L822.4,183.3L823.0,181.4L823.7,179.6L824.4,177.7L825.1,175.8L825.8,174.0L826.6,172.1L827.4,170.3L828.2,168.5L829.0,166.7L829.9,164.9L830.8,163.1L831.7,161.3L832.7,159.6L833.7,157.9L834.8,156.2L835.9,154.6L837.1,152.9L838.3,151.3L839.5,149.8L840.8,148.3L842.2,146.8L843.6,145.4L845.1,144.1L846.6,142.8L848.1,141.5L849.7,140.3L851.3,139.1L853.0,138.0L854.7,137.0L856.4,136.0L858.1,135.0L859.9,134.1L861.7,133.2L863.5,132.3L865.3,131.5L867.1,130.7L869.0,129.9L870.8,129.2L872.7,128.4L874.5,127.7L876.4,127.0L878.3,126.3L880.1,125.6L882.0,125.0L883.9,124.3L885.8,123.7L887.7,123.1L889.6,122.4L891.5,121.8L893.4,121.2L895.3,120.6L897.2,120.0L899.1,119.4L901.0,118.8L902.9,118.2L904.8,117.6L906.7,117.0L908.6,116.4L910.5,115.8L912.4,115.2L914.3,114.6L916.2,114.0L918.1,113.4L920.0,112.8L921.9,112.2L923.8,111.7L925.7,111.1L927.6,110.5L929.5,109.9L931.4,109.3L933.3,108.7L935.2,108.1L937.2,107.5L939.1,107.0L941.0,106.4L942.9,105.8L944.8,105.2L946.7,104.6L948.6,104.0L950.5,103.5L952.4,102.9L954.3,102.3L956.2,101.7L958.1,101.2L960.0,100.6L962.0,100.0" fill="none" stroke="#ee3a3a" stroke-width="2.9" stroke-linejoin="round" stroke-linecap="round"/>
<path d="M579.8,458.3L581.7,457.7L583.6,457.1L585.5,456.5L587.4,455.9L589.3,455.4L591.2,454.8L593.1,454.2L595.0,453.6L596.9,453.0L598.8,452.4L600.7,451.8L602.6,451.2L604.5,450.6L606.4,450.0L608.3,449.5L610.2,448.9L612.2,448.2L614.1,447.6L616.0,447.0L617.9,446.4L619.8,445.8L621.6,445.2L623.5,444.6L625.4,444.0L627.3,443.3L629.2,442.7L631.1,442.1L633.0,441.4L634.9,440.8L636.8,440.1L638.7,439.5L640.6,438.8L642.4,438.2L644.3,437.5L646.2,436.8L648.1,436.1L649.9,435.5L651.8,434.8L653.7,434.1L655.6,433.4L657.4,432.7L659.3,432.0L661.1,431.2L663.0,430.5L664.8,429.8L666.7,429.0L668.5,428.2L670.4,427.4L672.2,426.6L674.0,425.8L675.8,425.0L677.6,424.1L679.4,423.3L681.2,422.3L683.0,421.4L684.7,420.4L686.4,419.4L688.1,418.4L689.8,417.3L691.4,416.2L693.0,415.0L694.6,413.8L696.1,412.5L697.6,411.1L699.1,409.8L700.5,408.3L701.8,406.8L703.1,405.3L704.3,403.8L705.5,402.2L706.7,400.5L707.8,398.9L708.8,397.2L709.8,395.5L710.8,393.7L711.8,392.0L712.7,390.2L713.5,388.4L714.4,386.6L715.2,384.7L715.9,382.9L716.7,381.1L717.4,379.2L718.1,377.3L718.8,375.5L719.5,373.6L720.1,371.7L720.8,369.8L721.4,367.9L722.0,366.0L722.6,364.1L723.1,362.2L723.7,360.3L724.3,358.4L724.8,356.4L725.3,354.5L725.9,352.6L726.4,350.7L726.9,348.7L727.4,346.8L727.9,344.9L728.3,342.9L728.8,341.0L729.3,339.1L729.8,337.1L730.2,335.2L730.7,333.2L731.1,331.3L731.6,329.3L732.0,327.4L732.5,325.5L732.9,323.5L733.3,321.6L733.8,319.6L734.2,317.7L734.6,315.7L735.1,313.8L735.5,311.8L735.9,309.9L736.3,307.9L736.7,306.0L737.2,304.0L737.6,302.1L738.0,300.1L738.4,298.2L738.8,296.2L739.3,294.3L739.7,292.3L740.1,290.4L740.5,288.4L741.0,286.5L741.4,284.5L741.8,282.6L742.2,280.6L742.7,278.7L743.1,276.7L743.5,274.8L744.0,272.8L744.4,270.9L744.8,268.9L745.3,267.0L745.7,265.0L746.2,263.1L746.6,261.2L747.1,259.2L747.6,257.3L748.0,255.3L748.5,253.4L749.0,251.5L749.5,249.5L749.9,247.6L750.4,245.7L750.9,243.7L751.5,241.8L752.0,239.9L752.5,237.9L753.0,236.0L753.6,234.1L754.1,232.2L754.7,230.3L755.2,228.4L755.8,226.4L756.4,224.5L757.0,222.6L757.6,220.7L758.2,218.8L758.9,217.0L759.5,215.1L760.2,213.2L760.9,211.3L761.6,209.4L762.3,207.6L763.0,205.7L763.8,203.9L764.6,202.0L765.4,200.2L766.2,198.4L767.0,196.6L767.9,194.8L768.8,193.0L769.7,191.3L770.7,189.5L771.7,187.8L772.7,186.1L773.8,184.4L774.9,182.7L776.0,181.1L777.2,179.5L778.4,177.9L779.7,176.3L781.0,174.8L782.3,173.3L783.7,171.9L785.1,170.5L786.5,169.1L788.0,167.8L789.5,166.5L791.1,165.2L792.7,164.0L794.3,162.8L795.9,161.7L797.6,160.6L799.2,159.5L800.9,158.4L802.6,157.4L804.4,156.4L806.1,155.4L807.9,154.5L809.6,153.6L811.4,152.7L813.2,151.8L815.0,150.9L816.8,150.1L818.6,149.2L820.4,148.4L822.3,147.6L824.1,146.8L825.9,146.0L827.8,145.3L829.6,144.5L831.5,143.7L833.3,143.0L835.2,142.3L837.0,141.5L838.9,140.8L840.7,140.1L842.6,139.4L844.5,138.7L846.3,138.0L848.2,137.3L850.1,136.6L852.0,135.9L853.8,135.2L855.7,134.6L857.6,133.9L859.5,133.2L861.4,132.6L863.2,131.9L865.1,131.2L867.0,130.6L868.9,129.9L870.8,129.3L872.7,128.6L874.5,128.0L876.4,127.3L878.3,126.7L880.2,126.0L882.1,125.4L884.0,124.7L885.9,124.1L887.8,123.4L889.7,122.8L891.5,122.2L893.4,121.5L895.3,120.9L897.2,120.3L899.1,119.6L901.0,119.0L902.9,118.4L904.8,117.8L906.7,117.1L908.6,116.5L910.5,115.9L912.4,115.3L914.3,114.7L916.2,114.1L918.1,113.5L920.0,112.9L921.9,112.3L923.8,111.7L925.7,111.1L927.6,110.5L929.5,109.9L931.4,109.3L933.3,108.7L935.2,108.1L937.1,107.5L939.0,107.0L940.9,106.4L942.9,105.8L944.8,105.2L946.7,104.6L948.6,104.0L950.5,103.5L952.4,102.9L954.3,102.3L956.2,101.7L958.1,101.2L960.0,100.6L962.0,100.0" fill="none" stroke="#ee3a3a" stroke-width="2.9" stroke-linejoin="round" stroke-linecap="round"/>
<path d="M579.8,466.9L581.7,466.4L583.6,465.9L585.6,465.5L587.5,465.0L589.4,464.5L591.3,464.0L593.3,463.5L595.2,463.0L597.1,462.5L599.1,462.0L601.0,461.4L602.9,460.9L604.8,460.4L606.8,459.9L608.7,459.4L610.6,458.8L612.5,458.3L614.4,457.7L616.4,457.2L618.3,456.7L620.2,456.1L622.1,455.6L624.0,455.0L625.9,454.5L627.9,453.9L629.8,453.3L631.7,452.8L633.6,452.2L635.5,451.6L637.4,451.0L639.3,450.5L641.2,449.9L643.1,449.3L645.0,448.7L646.9,448.1L648.8,447.5L650.7,446.9L652.6,446.3L654.5,445.7L656.4,445.1L658.3,444.4L660.2,443.8L662.1,443.2L664.0,442.5L665.9,441.9L667.8,441.2L669.6,440.6L671.5,439.9L673.4,439.2L675.2,438.5L677.1,437.8L679.0,437.1L680.8,436.4L682.7,435.6L684.5,434.9L686.4,434.1L688.2,433.3L690.0,432.5L691.9,431.7L693.7,430.9L695.5,430.1L697.3,429.3L699.1,428.5L700.9,427.6L702.7,426.7L704.5,425.9L706.3,425.0L708.1,424.1L709.9,423.2L711.6,422.2L713.4,421.3L715.1,420.4L716.9,419.4L718.6,418.4L720.3,417.4L722.1,416.4L723.8,415.4L725.5,414.3L727.2,413.3L728.8,412.2L730.5,411.1L732.2,410.0L733.8,408.9L735.5,407.8L737.1,406.7L738.8,405.5L740.4,404.4L742.0,403.2L743.6,402.0L745.2,400.8L746.7,399.6L748.3,398.3L749.9,397.1L751.4,395.8L752.9,394.5L754.4,393.2L755.9,391.9L757.4,390.6L758.9,389.2L760.3,387.9L761.8,386.5L763.2,385.1L764.6,383.6L765.9,382.2L767.3,380.7L768.6,379.2L769.8,377.7L771.1,376.1L772.3,374.5L773.4,372.9L774.5,371.2L775.6,369.5L776.6,367.8L777.6,366.1L778.6,364.3L779.5,362.6L780.3,360.8L781.1,358.9L781.9,357.1L782.6,355.2L783.3,353.4L784.0,351.5L784.7,349.6L785.3,347.7L785.9,345.8L786.4,343.9L787.0,342.0L787.5,340.1L788.0,338.1L788.5,336.2L789.0,334.3L789.5,332.3L789.9,330.4L790.3,328.5L790.8,326.5L791.2,324.6L791.6,322.6L792.0,320.6L792.4,318.7L792.7,316.7L793.1,314.8L793.5,312.8L793.8,310.8L794.1,308.9L794.5,306.9L794.8,305.0L795.1,303.0L795.5,301.0L795.8,299.1L796.1,297.1L796.4,295.1L796.7,293.1L797.0,291.2L797.3,289.2L797.6,287.2L797.9,285.3L798.2,283.3L798.5,281.3L798.8,279.3L799.1,277.4L799.3,275.4L799.6,273.4L799.9,271.4L800.2,269.5L800.5,267.5L800.7,265.5L801.0,263.6L801.3,261.6L801.6,259.6L801.8,257.6L802.1,255.7L802.4,253.7L802.7,251.7L802.9,249.7L803.2,247.8L803.5,245.8L803.8,243.8L804.0,241.8L804.3,239.9L804.6,237.9L804.9,235.9L805.2,233.9L805.5,232.0L805.7,230.0L806.0,228.0L806.3,226.0L806.6,224.1L806.9,222.1L807.2,220.1L807.5,218.2L807.9,216.2L808.2,214.2L808.5,212.3L808.8,210.3L809.1,208.3L809.5,206.4L809.8,204.4L810.2,202.4L810.5,200.5L810.9,198.5L811.2,196.6L811.6,194.6L812.0,192.6L812.4,190.7L812.8,188.7L813.2,186.8L813.7,184.8L814.1,182.9L814.6,181.0L815.0,179.0L815.5,177.1L816.0,175.2L816.6,173.2L817.1,171.3L817.7,169.4L818.3,167.5L818.9,165.6L819.6,163.7L820.3,161.9L821.0,160.0L821.8,158.2L822.7,156.4L823.5,154.6L824.5,152.8L825.5,151.1L826.5,149.4L827.6,147.8L828.8,146.1L830.0,144.6L831.4,143.1L832.7,141.7L834.2,140.3L835.7,139.0L837.2,137.7L838.8,136.5L840.4,135.4L842.1,134.3L843.8,133.2L845.5,132.2L847.2,131.2L849.0,130.2L850.8,129.3L852.5,128.4L854.3,127.5L856.1,126.7L857.9,125.8L859.8,125.0L861.6,124.2L863.4,123.4L865.2,122.6L867.1,121.8L868.9,121.1L870.8,120.3L872.6,119.6L874.5,118.8L876.3,118.1L878.2,117.4L880.0,116.7L881.9,116.0L883.8,115.2L885.6,114.6L887.5,113.9L889.4,113.2L891.2,112.5L893.1,111.8L895.0,111.2L896.9,110.5L898.8,109.9L900.7,109.2L902.5,108.6L904.4,107.9L906.3,107.3L908.2,106.7L910.1,106.1L912.0,105.5L913.9,104.9L915.8,104.3L917.7,103.7L919.6,103.1L921.5,102.5L923.4,101.9L925.4,101.4L927.3,100.8L929.2,100.3L931.1,99.7L933.0,99.2L934.9,98.7L936.9,98.1L938.8,97.6L940.7,97.1L942.6,96.6L944.6,96.1L946.5,95.6L948.4,95.1L950.4,94.6L952.3,94.1L954.2,93.6L956.1,93.1L958.1,92.6L960.0,92.1L962.0,91.6" fill="none" stroke="#14e614" stroke-width="2.9" stroke-linejoin="round" stroke-linecap="round"/>
<path d="M579.8,466.9L581.7,466.4L583.6,465.9L585.6,465.5L587.5,465.0L589.4,464.5L591.4,464.0L593.3,463.5L595.2,463.0L597.1,462.5L599.1,462.0L601.0,461.4L602.9,460.9L604.9,460.4L606.8,459.9L608.7,459.3L610.6,458.8L612.5,458.3L614.5,457.7L616.4,457.2L618.3,456.6L620.2,456.0L622.1,455.5L624.0,454.9L625.9,454.3L627.8,453.7L629.7,453.1L631.6,452.5L633.5,451.9L635.4,451.2L637.3,450.6L639.2,450.0L641.1,449.3L643.0,448.7L644.9,448.0L646.7,447.3L648.6,446.6L650.5,446.0L652.4,445.3L654.2,444.5L656.1,443.8L657.9,443.1L659.8,442.4L661.6,441.6L663.5,440.9L665.3,440.1L667.2,439.3L669.0,438.5L670.8,437.8L672.7,437.0L674.5,436.2L676.3,435.3L678.1,434.5L680.0,433.7L681.8,432.9L683.6,432.0L685.4,431.1L687.2,430.3L688.9,429.4L690.7,428.5L692.5,427.5L694.2,426.6L696.0,425.6L697.7,424.6L699.4,423.6L701.1,422.5L702.8,421.4L704.4,420.2L706.0,419.0L707.5,417.8L709.0,416.4L710.4,415.1L711.8,413.6L713.1,412.1L714.4,410.6L715.5,408.9L716.7,407.3L717.7,405.6L718.7,403.8L719.6,402.1L720.4,400.3L721.3,398.4L722.0,396.6L722.7,394.7L723.4,392.9L724.1,391.0L724.7,389.1L725.3,387.2L725.8,385.3L726.4,383.3L726.9,381.4L727.4,379.5L727.9,377.5L728.3,375.6L728.8,373.7L729.2,371.7L729.6,369.8L730.0,367.8L730.4,365.8L730.8,363.9L731.2,361.9L731.5,360.0L731.9,358.0L732.3,356.0L732.6,354.1L732.9,352.1L733.3,350.1L733.6,348.2L733.9,346.2L734.2,344.2L734.5,342.3L734.8,340.3L735.1,338.3L735.4,336.3L735.7,334.4L736.0,332.4L736.3,330.4L736.6,328.4L736.8,326.5L737.1,324.5L737.4,322.5L737.7,320.5L737.9,318.6L738.2,316.6L738.5,314.6L738.7,312.6L739.0,310.7L739.3,308.7L739.5,306.7L739.8,304.7L740.1,302.7L740.3,300.8L740.6,298.8L740.8,296.8L741.1,294.8L741.4,292.9L741.6,290.9L741.9,288.9L742.2,286.9L742.4,284.9L742.7,283.0L743.0,281.0L743.2,279.0L743.5,277.0L743.8,275.1L744.0,273.1L744.3,271.1L744.6,269.1L744.9,267.2L745.2,265.2L745.4,263.2L745.7,261.2L746.0,259.3L746.3,257.3L746.6,255.3L746.9,253.3L747.2,251.4L747.6,249.4L747.9,247.4L748.2,245.5L748.5,243.5L748.9,241.5L749.2,239.6L749.6,237.6L749.9,235.6L750.3,233.7L750.7,231.7L751.0,229.8L751.4,227.8L751.8,225.9L752.3,223.9L752.7,222.0L753.1,220.0L753.6,218.1L754.1,216.1L754.6,214.2L755.1,212.3L755.6,210.4L756.2,208.4L756.8,206.5L757.4,204.6L758.0,202.7L758.7,200.9L759.4,199.0L760.2,197.2L761.0,195.3L761.8,193.5L762.7,191.7L763.6,190.0L764.6,188.2L765.7,186.5L766.8,184.9L767.9,183.2L769.1,181.7L770.4,180.1L771.7,178.6L773.1,177.2L774.5,175.8L775.9,174.4L777.4,173.1L778.9,171.7L780.5,170.5L782.0,169.2L783.6,168.0L785.2,166.8L786.8,165.6L788.4,164.4L790.0,163.2L791.6,162.1L793.3,160.9L794.9,159.8L796.6,158.7L798.2,157.6L799.9,156.5L801.5,155.4L803.2,154.3L804.9,153.2L806.6,152.1L808.3,151.1L809.9,150.0L811.6,149.0L813.3,147.9L815.1,146.9L816.8,145.9L818.5,144.8L820.2,143.8L821.9,142.8L823.7,141.8L825.4,140.9L827.1,139.9L828.9,138.9L830.6,138.0L832.4,137.0L834.2,136.1L835.9,135.2L837.7,134.2L839.5,133.3L841.3,132.4L843.0,131.5L844.8,130.7L846.6,129.8L848.4,128.9L850.2,128.1L852.0,127.2L853.8,126.4L855.7,125.6L857.5,124.8L859.3,124.0L861.1,123.2L863.0,122.4L864.8,121.6L866.7,120.8L868.5,120.1L870.4,119.3L872.2,118.6L874.1,117.9L875.9,117.2L877.8,116.5L879.7,115.8L881.5,115.1L883.4,114.4L885.3,113.7L887.2,113.1L889.1,112.4L891.0,111.8L892.8,111.2L894.7,110.5L896.6,109.9L898.5,109.3L900.4,108.7L902.3,108.1L904.3,107.5L906.2,106.9L908.1,106.3L910.0,105.8L911.9,105.2L913.8,104.6L915.7,104.1L917.6,103.5L919.6,103.0L921.5,102.4L923.4,101.9L925.3,101.3L927.2,100.8L929.2,100.3L931.1,99.7L933.0,99.2L934.9,98.7L936.8,98.1L938.8,97.6L940.7,97.1L942.6,96.6L944.6,96.1L946.5,95.6L948.4,95.1L950.3,94.6L952.3,94.1L954.2,93.6L956.1,93.1L958.1,92.6L960.0,92.1L962.0,91.6" fill="none" stroke="#14e614" stroke-width="2.9" stroke-linejoin="round" stroke-linecap="round"/>
<path d="M579.8,405.2L581.7,404.8L583.7,404.4L585.6,404.0L587.6,403.6L589.5,403.2L591.5,402.8L593.4,402.4L595.4,402.0L597.3,401.6L599.3,401.1L601.2,400.7L603.2,400.3L605.1,399.9L607.1,399.5L609.0,399.0L611.0,398.6L612.9,398.2L614.9,397.7L616.8,397.3L618.8,396.9L620.7,396.4L622.7,396.0L624.6,395.6L626.6,395.1L628.5,394.7L630.4,394.3L632.4,393.8L634.3,393.4L636.3,393.0L638.2,392.5L640.2,392.1L642.1,391.7L644.1,391.3L646.0,390.9L648.0,390.4L649.9,390.0L651.9,389.7L653.9,389.3L655.8,388.9L657.8,388.5L659.7,388.2L661.7,387.8L663.7,387.5L665.6,387.1L667.6,386.8L669.6,386.4L671.5,386.1L673.5,385.8L675.5,385.4L677.4,385.1L679.4,384.7L681.3,384.3L683.3,383.8L685.2,383.4L687.2,383.0L689.1,382.5L691.1,382.1L693.0,381.6L694.9,381.2L696.9,380.7L698.8,380.3L700.8,379.8L702.7,379.4L704.7,378.9L706.6,378.4L708.5,378.0L710.5,377.5L712.4,377.0L714.3,376.5L716.3,376.0L718.2,375.5L720.1,374.9L722.0,374.4L723.9,373.8L725.9,373.3L727.8,372.7L729.7,372.1L731.6,371.5L733.5,370.9L735.4,370.2L737.2,369.6L739.1,368.9L741.0,368.2L742.8,367.4L744.7,366.7L746.5,365.9L748.3,365.1L750.1,364.2L751.9,363.4L753.7,362.5L755.5,361.5L757.2,360.5L758.9,359.5L760.6,358.5L762.3,357.4L763.9,356.3L765.6,355.1L767.1,353.9L768.7,352.7L770.2,351.4L771.8,350.1L773.2,348.7L774.7,347.4L776.1,346.0L777.5,344.5L778.9,343.1L780.2,341.6L781.5,340.1L782.8,338.5L784.0,337.0L785.2,335.4L786.4,333.8L787.6,332.2L788.7,330.6L789.8,328.9L790.9,327.2L792.0,325.6L793.1,323.9L794.1,322.2L795.1,320.4L796.1,318.7L797.1,317.0L798.0,315.2L798.9,313.4L799.9,311.7L800.8,309.9L801.6,308.1L802.5,306.3L803.3,304.5L804.1,302.7L804.9,300.8L805.7,299.0L806.5,297.1L807.2,295.3L807.9,293.4L808.6,291.6L809.3,289.7L809.9,287.8L810.6,285.9L811.2,284.0L811.8,282.1L812.4,280.2L812.9,278.3L813.5,276.4L814.1,274.5L814.6,272.5L815.2,270.6L815.7,268.7L816.3,266.8L816.9,264.9L817.4,263.0L818.0,261.1L818.7,259.2L819.3,257.3L819.9,255.4L820.6,253.5L821.3,251.7L822.0,249.8L822.7,247.9L823.5,246.1L824.2,244.2L825.0,242.4L825.8,240.6L826.6,238.8L827.5,236.9L828.3,235.1L829.2,233.3L830.1,231.6L831.0,229.8L831.9,228.0L832.8,226.2L833.8,224.5L834.7,222.7L835.7,221.0L836.7,219.3L837.8,217.6L838.8,215.9L839.9,214.2L840.9,212.5L842.0,210.8L843.2,209.2L844.3,207.6L845.5,206.0L846.7,204.4L847.9,202.8L849.2,201.2L850.4,199.7L851.7,198.2L853.1,196.7L854.4,195.3L855.8,193.8L857.3,192.4L858.7,191.1L860.2,189.7L861.7,188.4L863.2,187.1L864.8,185.9L866.3,184.6L867.9,183.4L869.5,182.3L871.2,181.1L872.8,180.0L874.5,178.9L876.2,177.9L877.9,176.9L879.7,175.9L881.4,174.9L883.2,174.0L885.0,173.2L886.8,172.3L888.6,171.5L890.5,170.7L892.3,170.0L894.2,169.3L896.0,168.6L897.9,167.9L899.8,167.2L901.7,166.6L903.6,166.0L905.5,165.4L907.4,164.9L909.3,164.3L911.2,163.8L913.2,163.3L915.1,162.8L917.0,162.3L919.0,161.8L920.9,161.3L922.9,160.9L924.8,160.4L926.8,160.0L928.7,159.6L930.7,159.2L932.6,158.7L934.6,158.3L936.5,157.9L938.5,157.5L940.4,157.2L942.4,156.8L944.3,156.4L946.3,156.0L948.2,155.6L950.2,155.2L952.2,154.8L954.1,154.4L956.1,154.1L958.0,153.7L960.0,153.3L962.0,152.9" fill="none" stroke="#f28a36" stroke-width="2.9" stroke-linejoin="round" stroke-linecap="round"/>
<path d="M579.8,405.2L581.7,404.8L583.7,404.4L585.6,404.0L587.6,403.6L589.5,403.2L591.5,402.8L593.4,402.4L595.4,402.0L597.3,401.6L599.3,401.1L601.2,400.7L603.2,400.3L605.1,399.9L607.0,399.5L609.0,399.0L610.9,398.6L612.9,398.1L614.8,397.7L616.8,397.2L618.7,396.8L620.6,396.3L622.6,395.8L624.5,395.3L626.4,394.8L628.3,394.2L630.2,393.7L632.2,393.1L634.1,392.6L636.0,392.0L637.9,391.4L639.7,390.7L641.6,390.1L643.5,389.4L645.4,388.7L647.2,387.9L649.0,387.2L650.9,386.4L652.7,385.5L654.5,384.7L656.3,383.8L658.0,382.9L659.8,381.9L661.5,380.9L663.2,379.9L664.9,378.9L666.6,377.8L668.3,376.7L669.9,375.6L671.5,374.4L673.1,373.2L674.7,372.0L676.3,370.8L677.8,369.5L679.3,368.2L680.9,366.9L682.3,365.6L683.8,364.3L685.3,362.9L686.7,361.5L688.1,360.1L689.5,358.7L690.8,357.2L692.2,355.7L693.5,354.2L694.7,352.7L696.0,351.1L697.2,349.6L698.4,348.0L699.6,346.4L700.8,344.8L701.9,343.1L703.0,341.5L704.1,339.8L705.1,338.1L706.2,336.4L707.2,334.7L708.2,333.0L709.2,331.2L710.1,329.5L711.0,327.7L711.9,325.9L712.8,324.1L713.6,322.3L714.5,320.5L715.3,318.7L716.1,316.9L716.9,315.0L717.6,313.2L718.4,311.4L719.1,309.5L719.8,307.6L720.5,305.8L721.2,303.9L721.8,302.0L722.5,300.1L723.1,298.3L723.8,296.4L724.4,294.5L725.0,292.6L725.7,290.7L726.3,288.8L726.9,286.9L727.5,285.0L728.1,283.1L728.7,281.2L729.4,279.3L730.0,277.4L730.6,275.5L731.3,273.7L731.9,271.8L732.6,269.9L733.2,268.0L733.9,266.1L734.6,264.3L735.3,262.4L736.0,260.6L736.8,258.7L737.5,256.9L738.3,255.0L739.1,253.2L739.9,251.4L740.7,249.6L741.6,247.8L742.5,246.0L743.4,244.2L744.3,242.4L745.2,240.7L746.2,238.9L747.2,237.2L748.2,235.5L749.3,233.8L750.3,232.1L751.4,230.5L752.5,228.8L753.7,227.2L754.8,225.6L756.0,224.0L757.2,222.4L758.5,220.8L759.8,219.3L761.0,217.8L762.4,216.3L763.7,214.8L765.1,213.4L766.5,211.9L767.9,210.5L769.3,209.2L770.8,207.8L772.3,206.5L773.8,205.2L775.3,203.9L776.9,202.7L778.5,201.5L780.1,200.3L781.7,199.2L783.4,198.1L785.0,197.0L786.7,195.9L788.4,194.9L790.2,193.9L791.9,192.9L793.7,192.0L795.4,191.1L797.2,190.2L799.0,189.3L800.8,188.5L802.7,187.7L804.5,186.9L806.3,186.2L808.2,185.4L810.0,184.7L811.9,184.1L813.8,183.4L815.7,182.7L817.6,182.1L819.5,181.5L821.4,180.9L823.3,180.3L825.2,179.8L827.1,179.2L829.0,178.7L830.9,178.1L832.9,177.6L834.8,177.1L836.7,176.6L838.6,176.1L840.6,175.7L842.5,175.2L844.5,174.7L846.4,174.3L848.3,173.8L850.3,173.4L852.2,173.0L854.2,172.5L856.1,172.1L858.1,171.7L860.0,171.3L862.0,170.9L863.9,170.5L865.9,170.2L867.9,169.9L869.8,169.6L871.8,169.3L873.8,169.0L875.7,168.7L877.7,168.4L879.7,168.1L881.7,167.8L883.6,167.5L885.6,167.2L887.6,166.9L889.5,166.6L891.5,166.3L893.5,166.0L895.4,165.7L897.4,165.3L899.4,165.0L901.3,164.7L903.3,164.3L905.2,164.0L907.2,163.6L909.2,163.3L911.1,162.9L913.1,162.5L915.0,162.2L917.0,161.8L919.0,161.4L920.9,161.0L922.9,160.7L924.8,160.3L926.8,159.9L928.7,159.5L930.7,159.1L932.6,158.7L934.6,158.3L936.5,157.9L938.5,157.5L940.4,157.2L942.4,156.8L944.4,156.4L946.3,156.0L948.3,155.6L950.2,155.2L952.2,154.8L954.1,154.4L956.1,154.1L958.0,153.7L960.0,153.3L962.0,152.9" fill="none" stroke="#f28a36" stroke-width="2.9" stroke-linejoin="round" stroke-linecap="round"/>
<path d="M579.8,486.8L581.7,486.4L583.6,485.9L585.6,485.5L587.5,485.1L589.5,484.6L591.4,484.2L593.4,483.7L595.3,483.3L597.2,482.8L599.2,482.3L601.1,481.9L603.1,481.4L605.0,480.9L606.9,480.4L608.9,480.0L610.8,479.5L612.7,479.0L614.7,478.5L616.6,478.0L618.5,477.4L620.4,476.9L622.4,476.4L624.3,475.9L626.2,475.3L628.1,474.8L630.0,474.2L632.0,473.7L633.9,473.1L635.8,472.5L637.7,472.0L639.6,471.4L641.5,470.8L643.4,470.2L645.3,469.6L647.2,468.9L649.1,468.3L651.0,467.7L652.9,467.0L654.7,466.4L656.6,465.7L658.5,465.0L660.4,464.3L662.2,463.6L664.1,462.9L666.0,462.2L667.8,461.5L669.7,460.7L671.5,460.0L673.3,459.2L675.2,458.4L677.0,457.6L678.8,456.8L680.7,456.0L682.5,455.2L684.3,454.3L686.1,453.5L687.9,452.6L689.6,451.7L691.4,450.8L693.2,449.9L695.0,449.0L696.7,448.0L698.5,447.1L700.2,446.1L702.0,445.1L703.7,444.1L705.4,443.1L707.1,442.1L708.8,441.0L710.5,440.0L712.2,438.9L713.8,437.8L715.5,436.7L717.2,435.6L718.8,434.4L720.4,433.3L722.0,432.1L723.7,431.0L725.3,429.8L726.8,428.6L728.4,427.3L730.0,426.1L731.5,424.9L733.1,423.6L734.6,422.3L736.1,421.0L737.6,419.7L739.1,418.4L740.6,417.1L742.1,415.7L743.5,414.4L745.0,413.0L746.4,411.6L747.8,410.1L749.2,408.7L750.5,407.2L751.8,405.7L753.1,404.2L754.4,402.7L755.6,401.1L756.9,399.5L758.0,397.9L759.2,396.3L760.3,394.6L761.3,392.9L762.3,391.2L763.3,389.5L764.2,387.7L765.1,385.9L766.0,384.1L766.8,382.3L767.6,380.5L768.3,378.6L769.0,376.7L769.7,374.9L770.3,373.0L771.0,371.1L771.6,369.2L772.1,367.3L772.7,365.4L773.2,363.4L773.7,361.5L774.2,359.6L774.7,357.6L775.2,355.7L775.6,353.8L776.0,351.8L776.5,349.9L776.9,347.9L777.3,346.0L777.7,344.0L778.0,342.0L778.4,340.1L778.8,338.1L779.1,336.2L779.5,334.2L779.8,332.2L780.1,330.3L780.4,328.3L780.8,326.3L781.1,324.4L781.4,322.4L781.7,320.4L782.0,318.4L782.3,316.5L782.6,314.5L782.9,312.5L783.1,310.6L783.4,308.6L783.7,306.6L784.0,304.6L784.2,302.7L784.5,300.7L784.8,298.7L785.0,296.7L785.3,294.7L785.5,292.8L785.8,290.8L786.1,288.8L786.3,286.8L786.6,284.9L786.8,282.9L787.1,280.9L787.3,278.9L787.6,276.9L787.8,275.0L788.0,273.0L788.3,271.0L788.5,269.0L788.8,267.1L789.0,265.1L789.3,263.1L789.5,261.1L789.8,259.1L790.0,257.2L790.2,255.2L790.5,253.2L790.7,251.2L791.0,249.2L791.2,247.3L791.5,245.3L791.7,243.3L792.0,241.3L792.2,239.3L792.5,237.4L792.7,235.4L793.0,233.4L793.2,231.4L793.5,229.5L793.7,227.5L794.0,225.5L794.3,223.5L794.5,221.5L794.8,219.6L795.1,217.6L795.4,215.6L795.6,213.6L795.9,211.7L796.2,209.7L796.5,207.7L796.8,205.8L797.1,203.8L797.4,201.8L797.7,199.8L798.0,197.9L798.3,195.9L798.7,193.9L799.0,192.0L799.3,190.0L799.7,188.0L800.0,186.1L800.4,184.1L800.8,182.2L801.1,180.2L801.5,178.2L801.9,176.3L802.4,174.3L802.8,172.4L803.2,170.5L803.7,168.5L804.2,166.6L804.6,164.6L805.2,162.7L805.7,160.8L806.2,158.9L806.8,157.0L807.4,155.1L808.1,153.2L808.7,151.3L809.4,149.4L810.1,147.6L810.9,145.7L811.7,143.9L812.6,142.1L813.5,140.3L814.5,138.6L815.5,136.9L816.5,135.2L817.7,133.5L818.9,131.9L820.1,130.4L821.4,128.9L822.8,127.4L824.2,126.0L825.6,124.6L827.1,123.3L828.6,122.0L830.2,120.8L831.8,119.6L833.4,118.4L835.0,117.2L836.7,116.1L838.3,115.1L840.0,114.0L841.7,113.0L843.5,112.0L845.2,111.0L846.9,110.0L848.7,109.1L850.5,108.1L852.2,107.2L854.0,106.3L855.8,105.4L857.6,104.6L859.4,103.7L861.2,102.9L863.0,102.0L864.8,101.2L866.7,100.4L868.5,99.6L870.3,98.8L872.2,98.1L874.0,97.3L875.8,96.5L877.7,95.8L879.6,95.1L881.4,94.4L883.3,93.7L885.1,93.0L887.0,92.3L888.9,91.6L890.8,90.9L892.7,90.3L894.5,89.6L896.4,89.0L898.3,88.4L900.2,87.7L902.1,87.1L904.0,86.5L905.9,85.9L907.8,85.4L909.7,84.8L911.7,84.2L913.6,83.7L915.5,83.1L917.4,82.6L919.3,82.0L921.2,81.5L923.2,81.0L925.1,80.5L927.0,79.9L929.0,79.4L930.9,78.9L932.8,78.5L934.8,78.0L936.7,77.5L938.6,77.0L940.6,76.5L942.5,76.1L944.4,75.6L946.4,75.2L948.3,74.7L950.3,74.3L952.2,73.8L954.2,73.4L956.1,72.9L958.1,72.5L960.0,72.1L962.0,71.7" fill="none" stroke="#0b5434" stroke-width="2.9" stroke-linejoin="round" stroke-linecap="round"/>
<path d="M579.8,486.8L581.7,486.4L583.6,485.9L585.6,485.5L587.5,485.1L589.5,484.6L591.4,484.2L593.4,483.7L595.3,483.3L597.3,482.8L599.2,482.3L601.1,481.9L603.1,481.4L605.0,480.9L607.0,480.4L608.9,479.9L610.8,479.5L612.8,478.9L614.7,478.4L616.6,477.9L618.6,477.4L620.5,476.9L622.4,476.3L624.3,475.8L626.2,475.3L628.2,474.7L630.1,474.1L632.0,473.6L633.9,473.0L635.8,472.4L637.7,471.8L639.6,471.2L641.5,470.6L643.4,470.0L645.3,469.4L647.2,468.7L649.1,468.1L651.0,467.4L652.9,466.8L654.8,466.1L656.6,465.4L658.5,464.8L660.4,464.1L662.2,463.3L664.1,462.6L666.0,461.9L667.8,461.1L669.7,460.4L671.5,459.6L673.3,458.8L675.2,458.1L677.0,457.2L678.8,456.4L680.6,455.6L682.4,454.8L684.2,453.9L686.0,453.0L687.8,452.1L689.6,451.2L691.4,450.3L693.1,449.4L694.9,448.4L696.6,447.4L698.4,446.4L700.1,445.4L701.8,444.4L703.5,443.3L705.2,442.2L706.8,441.1L708.4,440.0L710.1,438.8L711.7,437.6L713.2,436.4L714.7,435.1L716.2,433.8L717.7,432.4L719.1,431.0L720.5,429.5L721.8,428.0L723.0,426.5L724.2,424.9L725.4,423.2L726.4,421.5L727.5,419.8L728.4,418.1L729.4,416.3L730.2,414.5L731.1,412.7L731.8,410.9L732.6,409.0L733.3,407.1L734.0,405.3L734.6,403.4L735.2,401.5L735.8,399.6L736.4,397.6L736.9,395.7L737.4,393.8L737.9,391.9L738.4,389.9L738.8,388.0L739.3,386.0L739.7,384.1L740.1,382.1L740.5,380.2L740.9,378.2L741.3,376.3L741.7,374.3L742.0,372.3L742.4,370.4L742.7,368.4L743.1,366.4L743.4,364.5L743.7,362.5L744.1,360.5L744.4,358.6L744.7,356.6L745.0,354.6L745.3,352.6L745.6,350.7L745.9,348.7L746.1,346.7L746.4,344.7L746.7,342.8L747.0,340.8L747.3,338.8L747.5,336.8L747.8,334.9L748.1,332.9L748.3,330.9L748.6,328.9L748.8,326.9L749.1,325.0L749.3,323.0L749.6,321.0L749.8,319.0L750.1,317.0L750.3,315.1L750.6,313.1L750.8,311.1L751.1,309.1L751.3,307.1L751.5,305.1L751.8,303.2L752.0,301.2L752.3,299.2L752.5,297.2L752.8,295.2L753.0,293.3L753.2,291.3L753.5,289.3L753.7,287.3L754.0,285.3L754.2,283.3L754.4,281.4L754.7,279.4L754.9,277.4L755.2,275.4L755.4,273.4L755.7,271.5L755.9,269.5L756.2,267.5L756.4,265.5L756.7,263.5L756.9,261.6L757.2,259.6L757.5,257.6L757.7,255.6L758.0,253.6L758.3,251.7L758.5,249.7L758.8,247.7L759.1,245.7L759.4,243.8L759.7,241.8L759.9,239.8L760.2,237.8L760.5,235.9L760.8,233.9L761.2,231.9L761.5,229.9L761.8,228.0L762.1,226.0L762.4,224.0L762.8,222.1L763.1,220.1L763.5,218.1L763.8,216.2L764.2,214.2L764.6,212.3L765.0,210.3L765.4,208.3L765.8,206.4L766.2,204.4L766.7,202.5L767.1,200.5L767.6,198.6L768.1,196.7L768.6,194.7L769.1,192.8L769.6,190.9L770.2,189.0L770.8,187.1L771.4,185.2L772.0,183.3L772.7,181.4L773.4,179.5L774.1,177.7L774.9,175.8L775.7,174.0L776.5,172.2L777.4,170.4L778.3,168.6L779.2,166.8L780.2,165.1L781.3,163.4L782.3,161.7L783.4,160.1L784.6,158.4L785.8,156.8L787.0,155.2L788.2,153.7L789.5,152.1L790.8,150.6L792.2,149.2L793.5,147.7L794.9,146.3L796.3,144.8L797.7,143.4L799.2,142.0L800.6,140.7L802.1,139.3L803.6,138.0L805.1,136.7L806.6,135.4L808.1,134.1L809.7,132.8L811.2,131.6L812.8,130.3L814.4,129.1L816.0,127.9L817.6,126.7L819.2,125.5L820.8,124.4L822.4,123.2L824.1,122.1L825.7,121.0L827.4,119.9L829.1,118.8L830.8,117.7L832.4,116.7L834.2,115.6L835.9,114.6L837.6,113.6L839.3,112.6L841.1,111.6L842.8,110.7L844.6,109.7L846.3,108.8L848.1,107.9L849.9,107.0L851.7,106.1L853.5,105.2L855.3,104.4L857.1,103.5L858.9,102.7L860.7,101.9L862.6,101.1L864.4,100.3L866.2,99.5L868.1,98.8L869.9,98.0L871.8,97.3L873.7,96.6L875.5,95.9L877.4,95.2L879.3,94.5L881.1,93.8L883.0,93.1L884.9,92.5L886.8,91.8L888.7,91.2L890.6,90.5L892.5,89.9L894.4,89.3L896.3,88.7L898.2,88.1L900.1,87.5L902.0,86.9L903.9,86.4L905.8,85.8L907.7,85.2L909.7,84.7L911.6,84.1L913.5,83.6L915.4,83.1L917.3,82.5L919.3,82.0L921.2,81.5L923.1,81.0L925.1,80.5L927.0,79.9L928.9,79.4L930.9,79.0L932.8,78.5L934.7,78.0L936.7,77.5L938.6,77.0L940.5,76.6L942.5,76.1L944.4,75.6L946.4,75.2L948.3,74.7L950.3,74.3L952.2,73.8L954.2,73.4L956.1,72.9L958.0,72.5L960.0,72.1L962.0,71.7" fill="none" stroke="#0b5434" stroke-width="2.9" stroke-linejoin="round" stroke-linecap="round"/>
<line x1="548.0" y1="279.30" x2="993.7" y2="279.30" stroke="#141414" stroke-width="2.2"/>
<line x1="770.85" y1="28.8" x2="770.85" y2="530.5" stroke="#141414" stroke-width="2.0"/>
<path d="M547.0,28.8H994.7" stroke="#1c1c1c" stroke-width="2.6"/>
<path d="M547.0,530.5H994.7" stroke="#1c1c1c" stroke-width="2.6"/>
<path d="M548.0,28.8V530.5" stroke="#1c1c1c" stroke-width="2.2"/>
<path d="M993.7,28.8V530.5" stroke="#4a4a4a" stroke-width="1.8"/>
<line x1="544.2" y1="529.82" x2="548.0" y2="529.82" stroke="#1a1a1a" stroke-width="1.8"/>
<line x1="540.3" y1="501.98" x2="548.0" y2="501.98" stroke="#1a1a1a" stroke-width="1.8"/>
<text transform="translate(536.10,508.18) scale(0.755,1)" font-size="21.50" font-weight="bold" text-anchor="end" fill="#111" stroke="#111" stroke-width="0.50">−80</text>
<line x1="544.2" y1="474.14" x2="548.0" y2="474.14" stroke="#1a1a1a" stroke-width="1.8"/>
<line x1="540.3" y1="446.31" x2="548.0" y2="446.31" stroke="#1a1a1a" stroke-width="1.8"/>
<text transform="translate(536.10,452.51) scale(0.755,1)" font-size="21.50" font-weight="bold" text-anchor="end" fill="#111" stroke="#111" stroke-width="0.50">−60</text>
<line x1="544.2" y1="418.48" x2="548.0" y2="418.48" stroke="#1a1a1a" stroke-width="1.8"/>
<line x1="540.3" y1="390.64" x2="548.0" y2="390.64" stroke="#1a1a1a" stroke-width="1.8"/>
<text transform="translate(536.10,396.84) scale(0.755,1)" font-size="21.50" font-weight="bold" text-anchor="end" fill="#111" stroke="#111" stroke-width="0.50">−40</text>
<line x1="544.2" y1="362.81" x2="548.0" y2="362.81" stroke="#1a1a1a" stroke-width="1.8"/>
<line x1="540.3" y1="334.97" x2="548.0" y2="334.97" stroke="#1a1a1a" stroke-width="1.8"/>
<text transform="translate(536.10,341.17) scale(0.755,1)" font-size="21.50" font-weight="bold" text-anchor="end" fill="#111" stroke="#111" stroke-width="0.50">−20</text>
<line x1="544.2" y1="307.13" x2="548.0" y2="307.13" stroke="#1a1a1a" stroke-width="1.8"/>
<line x1="540.3" y1="279.30" x2="548.0" y2="279.30" stroke="#1a1a1a" stroke-width="1.8"/>
<text transform="translate(536.10,285.50) scale(0.755,1)" font-size="21.50" font-weight="bold" text-anchor="end" fill="#111" stroke="#111" stroke-width="0.50">0</text>
<line x1="544.2" y1="251.47" x2="548.0" y2="251.47" stroke="#1a1a1a" stroke-width="1.8"/>
<line x1="540.3" y1="223.63" x2="548.0" y2="223.63" stroke="#1a1a1a" stroke-width="1.8"/>
<text transform="translate(536.10,229.83) scale(0.755,1)" font-size="21.50" font-weight="bold" text-anchor="end" fill="#111" stroke="#111" stroke-width="0.50">20</text>
<line x1="544.2" y1="195.80" x2="548.0" y2="195.80" stroke="#1a1a1a" stroke-width="1.8"/>
<line x1="540.3" y1="167.96" x2="548.0" y2="167.96" stroke="#1a1a1a" stroke-width="1.8"/>
<text transform="translate(536.10,174.16) scale(0.755,1)" font-size="21.50" font-weight="bold" text-anchor="end" fill="#111" stroke="#111" stroke-width="0.50">40</text>
<line x1="544.2" y1="140.12" x2="548.0" y2="140.12" stroke="#1a1a1a" stroke-width="1.8"/>
<line x1="540.3" y1="112.29" x2="548.0" y2="112.29" stroke="#1a1a1a" stroke-width="1.8"/>
<text transform="translate(536.10,118.49) scale(0.755,1)" font-size="21.50" font-weight="bold" text-anchor="end" fill="#111" stroke="#111" stroke-width="0.50">60</text>
<line x1="544.2" y1="84.46" x2="548.0" y2="84.46" stroke="#1a1a1a" stroke-width="1.8"/>
<line x1="540.3" y1="56.62" x2="548.0" y2="56.62" stroke="#1a1a1a" stroke-width="1.8"/>
<text transform="translate(536.10,62.82) scale(0.755,1)" font-size="21.50" font-weight="bold" text-anchor="end" fill="#111" stroke="#111" stroke-width="0.50">80</text>
<line x1="544.2" y1="28.78" x2="548.0" y2="28.78" stroke="#1a1a1a" stroke-width="1.8"/>
<line x1="547.90" y1="530.5" x2="547.90" y2="534.8" stroke="#1a1a1a" stroke-width="1.8"/>
<line x1="579.75" y1="530.5" x2="579.75" y2="539.8" stroke="#1a1a1a" stroke-width="1.8"/>
<text transform="translate(579.75,563.20) scale(0.700,1)" font-size="21.50" font-weight="bold" text-anchor="middle" fill="#111" stroke="#111" stroke-width="0.55">−15000</text>
<line x1="611.60" y1="530.5" x2="611.60" y2="534.8" stroke="#1a1a1a" stroke-width="1.8"/>
<line x1="643.45" y1="530.5" x2="643.45" y2="539.8" stroke="#1a1a1a" stroke-width="1.8"/>
<text transform="translate(643.45,563.20) scale(0.700,1)" font-size="21.50" font-weight="bold" text-anchor="middle" fill="#111" stroke="#111" stroke-width="0.55">−10000</text>
<line x1="675.30" y1="530.5" x2="675.30" y2="534.8" stroke="#1a1a1a" stroke-width="1.8"/>
<line x1="707.15" y1="530.5" x2="707.15" y2="539.8" stroke="#1a1a1a" stroke-width="1.8"/>
<text transform="translate(707.15,563.20) scale(0.700,1)" font-size="21.50" font-weight="bold" text-anchor="middle" fill="#111" stroke="#111" stroke-width="0.55">−5000</text>
<line x1="739.00" y1="530.5" x2="739.00" y2="534.8" stroke="#1a1a1a" stroke-width="1.8"/>
<line x1="770.85" y1="530.5" x2="770.85" y2="539.8" stroke="#1a1a1a" stroke-width="1.8"/>
<text transform="translate(770.85,563.20) scale(0.700,1)" font-size="21.50" font-weight="bold" text-anchor="middle" fill="#111" stroke="#111" stroke-width="0.55">0</text>
<line x1="802.70" y1="530.5" x2="802.70" y2="534.8" stroke="#1a1a1a" stroke-width="1.8"/>
<line x1="834.55" y1="530.5" x2="834.55" y2="539.8" stroke="#1a1a1a" stroke-width="1.8"/>
<text transform="translate(834.55,563.20) scale(0.700,1)" font-size="21.50" font-weight="bold" text-anchor="middle" fill="#111" stroke="#111" stroke-width="0.55">5000</text>
<line x1="866.40" y1="530.5" x2="866.40" y2="534.8" stroke="#1a1a1a" stroke-width="1.8"/>
<line x1="898.25" y1="530.5" x2="898.25" y2="539.8" stroke="#1a1a1a" stroke-width="1.8"/>
<text transform="translate(898.25,563.20) scale(0.700,1)" font-size="21.50" font-weight="bold" text-anchor="middle" fill="#111" stroke="#111" stroke-width="0.55">10000</text>
<line x1="930.10" y1="530.5" x2="930.10" y2="534.8" stroke="#1a1a1a" stroke-width="1.8"/>
<line x1="961.95" y1="530.5" x2="961.95" y2="539.8" stroke="#1a1a1a" stroke-width="1.8"/>
<text transform="translate(961.95,563.20) scale(0.700,1)" font-size="21.50" font-weight="bold" text-anchor="middle" fill="#111" stroke="#111" stroke-width="0.55">15000</text>
<line x1="993.80" y1="530.5" x2="993.80" y2="534.8" stroke="#1a1a1a" stroke-width="1.8"/>
<rect x="835.5" y="314.6" width="147.5" height="166.3" fill="none" stroke="#b8b8b8" stroke-width="1.4"/>
<line x1="833.0" y1="471.5" x2="835.5" y2="471.5" stroke="#999" stroke-width="1"/>
<text transform="translate(831.00,473.80)" font-size="6.50" font-weight="bold" text-anchor="end" fill="#222" textLength="9.50" lengthAdjust="spacingAndGlyphs" stroke="#222" stroke-width="0.25">0.00</text>
<line x1="834.0" y1="452.9" x2="835.5" y2="452.9" stroke="#999" stroke-width="1"/>
<line x1="833.0" y1="434.4" x2="835.5" y2="434.4" stroke="#999" stroke-width="1"/>
<text transform="translate(831.00,436.70)" font-size="6.50" font-weight="bold" text-anchor="end" fill="#222" textLength="9.50" lengthAdjust="spacingAndGlyphs" stroke="#222" stroke-width="0.25">0.01</text>
<line x1="834.0" y1="415.9" x2="835.5" y2="415.9" stroke="#999" stroke-width="1"/>
<line x1="833.0" y1="397.3" x2="835.5" y2="397.3" stroke="#999" stroke-width="1"/>
<text transform="translate(831.00,399.60)" font-size="6.50" font-weight="bold" text-anchor="end" fill="#222" textLength="9.50" lengthAdjust="spacingAndGlyphs" stroke="#222" stroke-width="0.25">0.02</text>
<line x1="834.0" y1="378.8" x2="835.5" y2="378.8" stroke="#999" stroke-width="1"/>
<line x1="833.0" y1="360.2" x2="835.5" y2="360.2" stroke="#999" stroke-width="1"/>
<text transform="translate(831.00,362.50)" font-size="6.50" font-weight="bold" text-anchor="end" fill="#222" textLength="9.50" lengthAdjust="spacingAndGlyphs" stroke="#222" stroke-width="0.25">0.03</text>
<line x1="834.0" y1="341.6" x2="835.5" y2="341.6" stroke="#999" stroke-width="1"/>
<line x1="833.0" y1="323.1" x2="835.5" y2="323.1" stroke="#999" stroke-width="1"/>
<text transform="translate(831.00,325.40)" font-size="6.50" font-weight="bold" text-anchor="end" fill="#222" textLength="9.50" lengthAdjust="spacingAndGlyphs" stroke="#222" stroke-width="0.25">0.04</text>
<line x1="835.2" y1="480.9" x2="835.2" y2="482.4" stroke="#999" stroke-width="1"/>
<line x1="845.8" y1="480.9" x2="845.8" y2="483.4" stroke="#999" stroke-width="1"/>
<text transform="translate(845.80,491.20)" font-size="6.30" font-weight="bold" text-anchor="middle" fill="#222" textLength="15.00" lengthAdjust="spacingAndGlyphs" stroke="#222" stroke-width="0.25">−15000</text>
<line x1="856.4" y1="480.9" x2="856.4" y2="482.4" stroke="#999" stroke-width="1"/>
<line x1="866.9" y1="480.9" x2="866.9" y2="483.4" stroke="#999" stroke-width="1"/>
<text transform="translate(866.90,491.20)" font-size="6.30" font-weight="bold" text-anchor="middle" fill="#222" textLength="15.00" lengthAdjust="spacingAndGlyphs" stroke="#222" stroke-width="0.25">−10000</text>
<line x1="877.5" y1="480.9" x2="877.5" y2="482.4" stroke="#999" stroke-width="1"/>
<line x1="888.0" y1="480.9" x2="888.0" y2="483.4" stroke="#999" stroke-width="1"/>
<text transform="translate(888.00,491.20)" font-size="6.30" font-weight="bold" text-anchor="middle" fill="#222" textLength="15.00" lengthAdjust="spacingAndGlyphs" stroke="#222" stroke-width="0.25">−5000</text>
<line x1="898.6" y1="480.9" x2="898.6" y2="482.4" stroke="#999" stroke-width="1"/>
<line x1="909.1" y1="480.9" x2="909.1" y2="483.4" stroke="#999" stroke-width="1"/>
<text transform="translate(909.10,491.20)" font-size="6.30" font-weight="bold" text-anchor="middle" fill="#222" textLength="3.00" lengthAdjust="spacingAndGlyphs" stroke="#222" stroke-width="0.25">0</text>
<line x1="919.6" y1="480.9" x2="919.6" y2="482.4" stroke="#999" stroke-width="1"/>
<line x1="930.2" y1="480.9" x2="930.2" y2="483.4" stroke="#999" stroke-width="1"/>
<text transform="translate(930.20,491.20)" font-size="6.30" font-weight="bold" text-anchor="middle" fill="#222" textLength="10.00" lengthAdjust="spacingAndGlyphs" stroke="#222" stroke-width="0.25">5000</text>
<line x1="940.8" y1="480.9" x2="940.8" y2="482.4" stroke="#999" stroke-width="1"/>
<line x1="951.3" y1="480.9" x2="951.3" y2="483.4" stroke="#999" stroke-width="1"/>
<text transform="translate(951.30,491.20)" font-size="6.30" font-weight="bold" text-anchor="middle" fill="#222" textLength="12.00" lengthAdjust="spacingAndGlyphs" stroke="#222" stroke-width="0.25">10000</text>
<line x1="961.9" y1="480.9" x2="961.9" y2="482.4" stroke="#999" stroke-width="1"/>
<line x1="972.4" y1="480.9" x2="972.4" y2="483.4" stroke="#999" stroke-width="1"/>
<text transform="translate(972.40,491.20)" font-size="6.30" font-weight="bold" text-anchor="middle" fill="#222" textLength="12.00" lengthAdjust="spacingAndGlyphs" stroke="#222" stroke-width="0.25">15000</text>
<line x1="983.0" y1="480.9" x2="983.0" y2="482.4" stroke="#999" stroke-width="1"/>
<text transform="translate(884.80,508.80)" font-size="7.20" font-weight="bold" text-anchor="start" fill="#222" textLength="52.40" lengthAdjust="spacingAndGlyphs" stroke="#222" stroke-width="0.25">Applied Field (Oe)</text>
<text transform="translate(814.50,402.30) rotate(-90)" font-size="6.50" font-weight="normal" text-anchor="middle" fill="#333" textLength="27.00" lengthAdjust="spacingAndGlyphs" stroke="#333" stroke-width="0.15">dM/dH</text>
<path d="M845.8,466.8L846.0,466.8L846.2,466.8L846.4,466.7L846.6,466.7L846.9,466.7L847.1,466.7L847.3,466.7L847.5,466.7L847.7,466.7L847.9,466.7L848.1,466.7L848.3,466.6L848.5,466.6L848.8,466.6L849.0,466.6L849.2,466.6L849.4,466.6L849.6,466.6L849.8,466.6L850.0,466.5L850.2,466.5L850.4,466.5L850.7,466.5L850.9,466.5L851.1,466.5L851.3,466.5L851.5,466.4L851.7,466.4L851.9,466.4L852.1,466.4L852.4,466.4L852.6,466.4L852.8,466.4L853.0,466.3L853.2,466.3L853.4,466.3L853.6,466.3L853.8,466.3L854.0,466.3L854.3,466.3L854.5,466.2L854.7,466.2L854.9,466.2L855.1,466.2L855.3,466.2L855.5,466.1L855.7,466.1L855.9,466.1L856.2,466.1L856.4,466.1L856.6,466.1L856.8,466.0L857.0,466.0L857.2,466.0L857.4,466.0L857.6,466.0L857.8,465.9L858.1,465.9L858.3,465.9L858.5,465.9L858.7,465.9L858.9,465.8L859.1,465.8L859.3,465.8L859.5,465.8L859.7,465.7L860.0,465.7L860.2,465.7L860.4,465.7L860.6,465.6L860.8,465.6L861.0,465.6L861.2,465.6L861.4,465.5L861.7,465.5L861.9,465.5L862.1,465.5L862.3,465.4L862.5,465.4L862.7,465.4L862.9,465.4L863.1,465.3L863.3,465.3L863.6,465.3L863.8,465.2L864.0,465.2L864.2,465.2L864.4,465.1L864.6,465.1L864.8,465.1L865.0,465.0L865.2,465.0L865.5,465.0L865.7,464.9L865.9,464.9L866.1,464.9L866.3,464.8L866.5,464.8L866.7,464.8L866.9,464.7L867.1,464.7L867.4,464.6L867.6,464.6L867.8,464.6L868.0,464.5L868.2,464.5L868.4,464.4L868.6,464.4L868.8,464.4L869.0,464.3L869.3,464.3L869.5,464.2L869.7,464.2L869.9,464.1L870.1,464.1L870.3,464.0L870.5,464.0L870.7,463.9L871.0,463.9L871.2,463.8L871.4,463.8L871.6,463.7L871.8,463.6L872.0,463.6L872.2,463.5L872.4,463.5L872.6,463.4L872.9,463.4L873.1,463.3L873.3,463.2L873.5,463.2L873.7,463.1L873.9,463.0L874.1,463.0L874.3,462.9L874.5,462.8L874.8,462.7L875.0,462.7L875.2,462.6L875.4,462.5L875.6,462.4L875.8,462.3L876.0,462.3L876.2,462.2L876.4,462.1L876.7,462.0L876.9,461.9L877.1,461.8L877.3,461.7L877.5,461.6L877.7,461.5L877.9,461.4L878.1,461.3L878.3,461.2L878.6,461.1L878.8,461.0L879.0,460.9L879.2,460.8L879.4,460.7L879.6,460.6L879.8,460.4L880.0,460.3L880.3,460.2L880.5,460.0L880.7,459.9L880.9,459.8L881.1,459.6L881.3,459.5L881.5,459.3L881.7,459.2L881.9,459.0L882.2,458.9L882.4,458.7L882.6,458.5L882.8,458.4L883.0,458.2L883.2,458.0L883.4,457.8L883.6,457.6L883.8,457.4L884.1,457.2L884.3,457.0L884.5,456.8L884.7,456.5L884.9,456.3L885.1,456.1L885.3,455.8L885.5,455.6L885.7,455.3L886.0,455.0L886.2,454.7L886.4,454.5L886.6,454.1L886.8,453.8L887.0,453.5L887.2,453.2L887.4,452.8L887.6,452.5L887.9,452.1L888.1,451.7L888.3,451.3L888.5,450.9L888.7,450.4L888.9,450.0L889.1,449.5L889.3,449.0L889.5,448.5L889.8,447.9L890.0,447.3L890.2,446.7L890.4,446.1L890.6,445.5L890.8,444.8L891.0,444.1L891.2,443.3L891.5,442.5L891.7,441.7L891.9,440.8L892.1,439.9L892.3,438.9L892.5,437.9L892.7,436.8L892.9,435.6L893.1,434.4L893.4,433.2L893.6,431.8L893.8,430.4L894.0,429.0L894.2,427.4L894.4,425.8L894.6,424.1L894.8,422.3L895.0,420.5L895.3,418.5L895.5,416.5L895.7,414.5L895.9,412.3L896.1,410.2L896.3,408.0L896.5,405.8L896.7,403.6L896.9,401.5L897.2,399.4L897.4,397.5L897.6,395.7L897.8,394.0L898.0,392.5L898.2,391.3L898.4,390.4L898.6,389.7L898.8,389.4L899.1,389.4L899.3,389.7L899.5,390.3L899.7,391.2L899.9,392.3L900.1,393.8L900.3,395.4L900.5,397.2L900.8,399.1L901.0,401.2L901.2,403.3L901.4,405.5L901.6,407.7L901.8,409.8L902.0,412.0L902.2,414.1L902.4,416.2L902.7,418.2L902.9,420.1L903.1,422.0L903.3,423.8L903.5,425.5L903.7,427.2L903.9,428.7L904.1,430.2L904.3,431.6L904.6,433.0L904.8,434.2L905.0,435.4L905.2,436.6L905.4,437.7L905.6,438.7L905.8,439.7L906.0,440.6L906.2,441.5L906.5,442.4L906.7,443.2L906.9,443.9L907.1,444.7L907.3,445.4L907.5,446.0L907.7,446.6L907.9,447.2L908.1,447.8L908.4,448.4L908.6,448.9L908.8,449.4L909.0,449.9L909.2,450.3L909.4,450.8L909.6,451.2L909.8,451.6L910.1,452.0L910.3,452.4L910.5,452.8L910.7,453.1L910.9,453.5L911.1,453.8L911.3,454.1L911.5,454.4L911.7,454.7L912.0,455.0L912.2,455.3L912.4,455.5L912.6,455.8L912.8,456.0L913.0,456.3L913.2,456.5L913.4,456.7L913.6,457.0L913.9,457.2L914.1,457.4L914.3,457.6L914.5,457.8L914.7,458.0L914.9,458.1L915.1,458.3L915.3,458.5L915.5,458.7L915.8,458.8L916.0,459.0L916.2,459.2L916.4,459.3L916.6,459.5L916.8,459.6L917.0,459.7L917.2,459.9L917.4,460.0L917.7,460.2L917.9,460.3L918.1,460.4L918.3,460.5L918.5,460.7L918.7,460.8L918.9,460.9L919.1,461.0L919.4,461.1L919.6,461.2L919.8,461.3L920.0,461.4L920.2,461.5L920.4,461.6L920.6,461.7L920.8,461.8L921.0,461.9L921.3,462.0L921.5,462.1L921.7,462.2L921.9,462.3L922.1,462.3L922.3,462.4L922.5,462.5L922.7,462.6L922.9,462.7L923.2,462.7L923.4,462.8L923.6,462.9L923.8,462.9L924.0,463.0L924.2,463.1L924.4,463.1L924.6,463.2L924.8,463.3L925.1,463.3L925.3,463.4L925.5,463.5L925.7,463.5L925.9,463.6L926.1,463.6L926.3,463.7L926.5,463.8L926.7,463.8L927.0,463.9L927.2,463.9L927.4,464.0L927.6,464.0L927.8,464.1L928.0,464.1L928.2,464.2L928.4,464.2L928.7,464.3L928.9,464.3L929.1,464.3L929.3,464.4L929.5,464.4L929.7,464.5L929.9,464.5L930.1,464.6L930.3,464.6L930.6,464.6L930.8,464.7L931.0,464.7L931.2,464.8L931.4,464.8L931.6,464.8L931.8,464.9L932.0,464.9L932.2,464.9L932.5,465.0L932.7,465.0L932.9,465.0L933.1,465.1L933.3,465.1L933.5,465.1L933.7,465.2L933.9,465.2L934.1,465.2L934.4,465.3L934.6,465.3L934.8,465.3L935.0,465.4L935.2,465.4L935.4,465.4L935.6,465.4L935.8,465.5L936.0,465.5L936.3,465.5L936.5,465.5L936.7,465.6L936.9,465.6L937.1,465.6L937.3,465.6L937.5,465.7L937.7,465.7L937.9,465.7L938.2,465.7L938.4,465.8L938.6,465.8L938.8,465.8L939.0,465.8L939.2,465.9L939.4,465.9L939.6,465.9L939.9,465.9L940.1,465.9L940.3,466.0L940.5,466.0L940.7,466.0L940.9,466.0L941.1,466.0L941.3,466.1L941.5,466.1L941.8,466.1L942.0,466.1L942.2,466.1L942.4,466.1L942.6,466.2L942.8,466.2L943.0,466.2L943.2,466.2L943.4,466.2L943.7,466.2L943.9,466.3L944.1,466.3L944.3,466.3L944.5,466.3L944.7,466.3L944.9,466.3L945.1,466.4L945.3,466.4L945.6,466.4L945.8,466.4L946.0,466.4L946.2,466.4L946.4,466.4L946.6,466.5L946.8,466.5L947.0,466.5L947.2,466.5L947.5,466.5L947.7,466.5L947.9,466.5L948.1,466.6L948.3,466.6L948.5,466.6L948.7,466.6L948.9,466.6L949.2,466.6L949.4,466.6L949.6,466.6L949.8,466.7L950.0,466.7L950.2,466.7L950.4,466.7L950.6,466.7L950.8,466.7L951.1,466.7L951.3,466.7L951.5,466.7L951.7,466.8L951.9,466.8L952.1,466.8L952.3,466.8L952.5,466.8L952.7,466.8L953.0,466.8L953.2,466.8L953.4,466.8L953.6,466.8L953.8,466.9L954.0,466.9L954.2,466.9L954.4,466.9L954.6,466.9L954.9,466.9L955.1,466.9L955.3,466.9L955.5,466.9L955.7,466.9L955.9,466.9L956.1,466.9L956.3,467.0L956.5,467.0L956.8,467.0L957.0,467.0L957.2,467.0L957.4,467.0L957.6,467.0L957.8,467.0L958.0,467.0L958.2,467.0L958.5,467.0L958.7,467.0L958.9,467.1L959.1,467.1L959.3,467.1L959.5,467.1L959.7,467.1L959.9,467.1L960.1,467.1L960.4,467.1L960.6,467.1L960.8,467.1L961.0,467.1L961.2,467.1L961.4,467.1L961.6,467.1L961.8,467.1L962.0,467.2L962.3,467.2L962.5,467.2L962.7,467.2L962.9,467.2L963.1,467.2L963.3,467.2L963.5,467.2L963.7,467.2L963.9,467.2L964.2,467.2L964.4,467.2L964.6,467.2L964.8,467.2L965.0,467.2L965.2,467.2L965.4,467.3L965.6,467.3L965.8,467.3L966.1,467.3L966.3,467.3L966.5,467.3L966.7,467.3L966.9,467.3L967.1,467.3L967.3,467.3L967.5,467.3L967.8,467.3L968.0,467.3L968.2,467.3L968.4,467.3L968.6,467.3L968.8,467.3L969.0,467.3L969.2,467.3L969.4,467.3L969.7,467.4L969.9,467.4L970.1,467.4L970.3,467.4L970.5,467.4L970.7,467.4L970.9,467.4L971.1,467.4L971.3,467.4L971.6,467.4L971.8,467.4L972.0,467.4L972.2,467.4L972.4,467.4" fill="none" stroke="#f07878" stroke-width="1.2" stroke-linejoin="round"/>
<path d="M845.8,466.4L846.0,466.4L846.2,466.3L846.4,466.3L846.6,466.3L846.9,466.3L847.1,466.3L847.3,466.3L847.5,466.3L847.7,466.3L847.9,466.3L848.1,466.2L848.3,466.2L848.5,466.2L848.8,466.2L849.0,466.2L849.2,466.2L849.4,466.2L849.6,466.2L849.8,466.1L850.0,466.1L850.2,466.1L850.4,466.1L850.7,466.1L850.9,466.1L851.1,466.1L851.3,466.0L851.5,466.0L851.7,466.0L851.9,466.0L852.1,466.0L852.4,466.0L852.6,466.0L852.8,465.9L853.0,465.9L853.2,465.9L853.4,465.9L853.6,465.9L853.8,465.9L854.0,465.8L854.3,465.8L854.5,465.8L854.7,465.8L854.9,465.8L855.1,465.7L855.3,465.7L855.5,465.7L855.7,465.7L855.9,465.7L856.2,465.7L856.4,465.6L856.6,465.6L856.8,465.6L857.0,465.6L857.2,465.6L857.4,465.5L857.6,465.5L857.8,465.5L858.1,465.5L858.3,465.4L858.5,465.4L858.7,465.4L858.9,465.4L859.1,465.4L859.3,465.3L859.5,465.3L859.7,465.3L860.0,465.3L860.2,465.2L860.4,465.2L860.6,465.2L860.8,465.2L861.0,465.1L861.2,465.1L861.4,465.1L861.7,465.0L861.9,465.0L862.1,465.0L862.3,465.0L862.5,464.9L862.7,464.9L862.9,464.9L863.1,464.8L863.3,464.8L863.6,464.8L863.8,464.7L864.0,464.7L864.2,464.7L864.4,464.6L864.6,464.6L864.8,464.6L865.0,464.5L865.2,464.5L865.5,464.5L865.7,464.4L865.9,464.4L866.1,464.3L866.3,464.3L866.5,464.3L866.7,464.2L866.9,464.2L867.1,464.1L867.4,464.1L867.6,464.0L867.8,464.0L868.0,464.0L868.2,463.9L868.4,463.9L868.6,463.8L868.8,463.8L869.0,463.7L869.3,463.7L869.5,463.6L869.7,463.6L869.9,463.5L870.1,463.5L870.3,463.4L870.5,463.3L870.7,463.3L871.0,463.2L871.2,463.2L871.4,463.1L871.6,463.0L871.8,463.0L872.0,462.9L872.2,462.8L872.4,462.8L872.6,462.7L872.9,462.6L873.1,462.6L873.3,462.5L873.5,462.4L873.7,462.4L873.9,462.3L874.1,462.2L874.3,462.1L874.5,462.0L874.8,462.0L875.0,461.9L875.2,461.8L875.4,461.7L875.6,461.6L875.8,461.5L876.0,461.4L876.2,461.3L876.4,461.2L876.7,461.1L876.9,461.0L877.1,460.9L877.3,460.8L877.5,460.7L877.7,460.6L877.9,460.5L878.1,460.3L878.3,460.2L878.6,460.1L878.8,460.0L879.0,459.8L879.2,459.7L879.4,459.6L879.6,459.4L879.8,459.3L880.0,459.1L880.3,459.0L880.5,458.8L880.7,458.7L880.9,458.5L881.1,458.3L881.3,458.2L881.5,458.0L881.7,457.8L881.9,457.6L882.2,457.4L882.4,457.3L882.6,457.1L882.8,456.8L883.0,456.6L883.2,456.4L883.4,456.2L883.6,456.0L883.8,455.7L884.1,455.5L884.3,455.2L884.5,455.0L884.7,454.7L884.9,454.4L885.1,454.1L885.3,453.8L885.5,453.5L885.7,453.2L886.0,452.9L886.2,452.6L886.4,452.2L886.6,451.9L886.8,451.5L887.0,451.1L887.2,450.7L887.4,450.3L887.6,449.9L887.9,449.4L888.1,449.0L888.3,448.5L888.5,448.0L888.7,447.5L888.9,446.9L889.1,446.3L889.3,445.7L889.5,445.1L889.8,444.5L890.0,443.8L890.2,443.1L890.4,442.3L890.6,441.6L890.8,440.7L891.0,439.9L891.2,439.0L891.5,438.0L891.7,437.0L891.9,435.9L892.1,434.8L892.3,433.6L892.5,432.3L892.7,431.0L892.9,429.5L893.1,428.0L893.4,426.4L893.6,424.6L893.8,422.8L894.0,420.8L894.2,418.8L894.4,416.5L894.6,414.2L894.8,411.6L895.0,408.9L895.3,406.0L895.5,403.0L895.7,399.8L895.9,396.4L896.1,392.8L896.3,389.0L896.5,385.1L896.7,381.1L896.9,377.0L897.2,372.8L897.4,368.7L897.6,364.6L897.8,360.8L898.0,357.2L898.2,354.0L898.4,351.2L898.6,349.1L898.8,347.6L899.1,346.8L899.3,346.7L899.5,347.4L899.7,348.8L899.9,350.9L900.1,353.5L900.3,356.6L900.5,360.2L900.8,364.0L901.0,368.0L901.2,372.2L901.4,376.3L901.6,380.4L901.8,384.5L902.0,388.4L902.2,392.2L902.4,395.8L902.7,399.2L902.9,402.5L903.1,405.6L903.3,408.5L903.5,411.2L903.7,413.8L903.9,416.2L904.1,418.4L904.3,420.5L904.6,422.5L904.8,424.4L905.0,426.1L905.2,427.7L905.4,429.3L905.6,430.7L905.8,432.1L906.0,433.4L906.2,434.6L906.5,435.7L906.7,436.8L906.9,437.8L907.1,438.8L907.3,439.7L907.5,440.6L907.7,441.4L907.9,442.2L908.1,443.0L908.4,443.7L908.6,444.4L908.8,445.0L909.0,445.7L909.2,446.2L909.4,446.8L909.6,447.4L909.8,447.9L910.1,448.4L910.3,448.9L910.5,449.4L910.7,449.8L910.9,450.2L911.1,450.6L911.3,451.1L911.5,451.4L911.7,451.8L912.0,452.2L912.2,452.5L912.4,452.9L912.6,453.2L912.8,453.5L913.0,453.8L913.2,454.1L913.4,454.4L913.6,454.7L913.9,454.9L914.1,455.2L914.3,455.4L914.5,455.7L914.7,455.9L914.9,456.2L915.1,456.4L915.3,456.6L915.5,456.8L915.8,457.0L916.0,457.2L916.2,457.4L916.4,457.6L916.6,457.8L916.8,458.0L917.0,458.2L917.2,458.3L917.4,458.5L917.7,458.7L917.9,458.8L918.1,459.0L918.3,459.1L918.5,459.3L918.7,459.4L918.9,459.5L919.1,459.7L919.4,459.8L919.6,459.9L919.8,460.1L920.0,460.2L920.2,460.3L920.4,460.4L920.6,460.6L920.8,460.7L921.0,460.8L921.3,460.9L921.5,461.0L921.7,461.1L921.9,461.2L922.1,461.3L922.3,461.4L922.5,461.5L922.7,461.6L922.9,461.7L923.2,461.8L923.4,461.9L923.6,461.9L923.8,462.0L924.0,462.1L924.2,462.2L924.4,462.3L924.6,462.3L924.8,462.4L925.1,462.5L925.3,462.6L925.5,462.6L925.7,462.7L925.9,462.8L926.1,462.8L926.3,462.9L926.5,463.0L926.7,463.0L927.0,463.1L927.2,463.2L927.4,463.2L927.6,463.3L927.8,463.3L928.0,463.4L928.2,463.4L928.4,463.5L928.7,463.6L928.9,463.6L929.1,463.7L929.3,463.7L929.5,463.8L929.7,463.8L929.9,463.9L930.1,463.9L930.3,463.9L930.6,464.0L930.8,464.0L931.0,464.1L931.2,464.1L931.4,464.2L931.6,464.2L931.8,464.3L932.0,464.3L932.2,464.3L932.5,464.4L932.7,464.4L932.9,464.4L933.1,464.5L933.3,464.5L933.5,464.6L933.7,464.6L933.9,464.6L934.1,464.7L934.4,464.7L934.6,464.7L934.8,464.8L935.0,464.8L935.2,464.8L935.4,464.9L935.6,464.9L935.8,464.9L936.0,465.0L936.3,465.0L936.5,465.0L936.7,465.0L936.9,465.1L937.1,465.1L937.3,465.1L937.5,465.1L937.7,465.2L937.9,465.2L938.2,465.2L938.4,465.3L938.6,465.3L938.8,465.3L939.0,465.3L939.2,465.3L939.4,465.4L939.6,465.4L939.9,465.4L940.1,465.4L940.3,465.5L940.5,465.5L940.7,465.5L940.9,465.5L941.1,465.6L941.3,465.6L941.5,465.6L941.8,465.6L942.0,465.6L942.2,465.7L942.4,465.7L942.6,465.7L942.8,465.7L943.0,465.7L943.2,465.7L943.4,465.8L943.7,465.8L943.9,465.8L944.1,465.8L944.3,465.8L944.5,465.9L944.7,465.9L944.9,465.9L945.1,465.9L945.3,465.9L945.6,465.9L945.8,466.0L946.0,466.0L946.2,466.0L946.4,466.0L946.6,466.0L946.8,466.0L947.0,466.0L947.2,466.1L947.5,466.1L947.7,466.1L947.9,466.1L948.1,466.1L948.3,466.1L948.5,466.1L948.7,466.2L948.9,466.2L949.2,466.2L949.4,466.2L949.6,466.2L949.8,466.2L950.0,466.2L950.2,466.2L950.4,466.3L950.6,466.3L950.8,466.3L951.1,466.3L951.3,466.3L951.5,466.3L951.7,466.3L951.9,466.3L952.1,466.3L952.3,466.4L952.5,466.4L952.7,466.4L953.0,466.4L953.2,466.4L953.4,466.4L953.6,466.4L953.8,466.4L954.0,466.4L954.2,466.4L954.4,466.5L954.6,466.5L954.9,466.5L955.1,466.5L955.3,466.5L955.5,466.5L955.7,466.5L955.9,466.5L956.1,466.5L956.3,466.5L956.5,466.6L956.8,466.6L957.0,466.6L957.2,466.6L957.4,466.6L957.6,466.6L957.8,466.6L958.0,466.6L958.2,466.6L958.5,466.6L958.7,466.6L958.9,466.6L959.1,466.7L959.3,466.7L959.5,466.7L959.7,466.7L959.9,466.7L960.1,466.7L960.4,466.7L960.6,466.7L960.8,466.7L961.0,466.7L961.2,466.7L961.4,466.7L961.6,466.7L961.8,466.7L962.0,466.8L962.3,466.8L962.5,466.8L962.7,466.8L962.9,466.8L963.1,466.8L963.3,466.8L963.5,466.8L963.7,466.8L963.9,466.8L964.2,466.8L964.4,466.8L964.6,466.8L964.8,466.8L965.0,466.8L965.2,466.8L965.4,466.9L965.6,466.9L965.8,466.9L966.1,466.9L966.3,466.9L966.5,466.9L966.7,466.9L966.9,466.9L967.1,466.9L967.3,466.9L967.5,466.9L967.8,466.9L968.0,466.9L968.2,466.9L968.4,466.9L968.6,466.9L968.8,466.9L969.0,466.9L969.2,466.9L969.4,467.0L969.7,467.0L969.9,467.0L970.1,467.0L970.3,467.0L970.5,467.0L970.7,467.0L970.9,467.0L971.1,467.0L971.3,467.0L971.6,467.0L971.8,467.0L972.0,467.0L972.2,467.0L972.4,467.0" fill="none" stroke="#34dd34" stroke-width="1.4" stroke-linejoin="round"/>
<path d="M845.8,466.8L846.0,466.8L846.2,466.8L846.4,466.8L846.6,466.7L846.9,466.7L847.1,466.7L847.3,466.7L847.5,466.7L847.7,466.7L847.9,466.6L848.1,466.6L848.3,466.6L848.5,466.6L848.8,466.6L849.0,466.6L849.2,466.5L849.4,466.5L849.6,466.5L849.8,466.5L850.0,466.5L850.2,466.4L850.4,466.4L850.7,466.4L850.9,466.4L851.1,466.4L851.3,466.3L851.5,466.3L851.7,466.3L851.9,466.3L852.1,466.3L852.4,466.2L852.6,466.2L852.8,466.2L853.0,466.2L853.2,466.2L853.4,466.1L853.6,466.1L853.8,466.1L854.0,466.1L854.3,466.0L854.5,466.0L854.7,466.0L854.9,466.0L855.1,465.9L855.3,465.9L855.5,465.9L855.7,465.9L855.9,465.8L856.2,465.8L856.4,465.8L856.6,465.8L856.8,465.7L857.0,465.7L857.2,465.7L857.4,465.7L857.6,465.6L857.8,465.6L858.1,465.6L858.3,465.5L858.5,465.5L858.7,465.5L858.9,465.5L859.1,465.4L859.3,465.4L859.5,465.4L859.7,465.3L860.0,465.3L860.2,465.3L860.4,465.2L860.6,465.2L860.8,465.2L861.0,465.1L861.2,465.1L861.4,465.1L861.7,465.0L861.9,465.0L862.1,464.9L862.3,464.9L862.5,464.9L862.7,464.8L862.9,464.8L863.1,464.8L863.3,464.7L863.6,464.7L863.8,464.6L864.0,464.6L864.2,464.5L864.4,464.5L864.6,464.5L864.8,464.4L865.0,464.4L865.2,464.3L865.5,464.3L865.7,464.2L865.9,464.2L866.1,464.1L866.3,464.1L866.5,464.0L866.7,464.0L866.9,463.9L867.1,463.9L867.4,463.8L867.6,463.8L867.8,463.7L868.0,463.6L868.2,463.6L868.4,463.5L868.6,463.5L868.8,463.4L869.0,463.4L869.3,463.3L869.5,463.2L869.7,463.2L869.9,463.1L870.1,463.0L870.3,463.0L870.5,462.9L870.7,462.8L871.0,462.7L871.2,462.7L871.4,462.6L871.6,462.5L871.8,462.4L872.0,462.4L872.2,462.3L872.4,462.2L872.6,462.1L872.9,462.0L873.1,461.9L873.3,461.9L873.5,461.8L873.7,461.7L873.9,461.6L874.1,461.5L874.3,461.4L874.5,461.3L874.8,461.2L875.0,461.1L875.2,461.0L875.4,460.9L875.6,460.8L875.8,460.6L876.0,460.5L876.2,460.4L876.4,460.3L876.7,460.2L876.9,460.0L877.1,459.9L877.3,459.8L877.5,459.6L877.7,459.5L877.9,459.3L878.1,459.2L878.3,459.0L878.6,458.9L878.8,458.7L879.0,458.6L879.2,458.4L879.4,458.2L879.6,458.1L879.8,457.9L880.0,457.7L880.3,457.5L880.5,457.3L880.7,457.1L880.9,456.9L881.1,456.7L881.3,456.5L881.5,456.2L881.7,456.0L881.9,455.8L882.2,455.5L882.4,455.3L882.6,455.0L882.8,454.7L883.0,454.4L883.2,454.1L883.4,453.9L883.6,453.5L883.8,453.2L884.1,452.9L884.3,452.6L884.5,452.2L884.7,451.9L884.9,451.5L885.1,451.1L885.3,450.7L885.5,450.3L885.7,449.9L886.0,449.4L886.2,449.0L886.4,448.5L886.6,448.0L886.8,447.5L887.0,447.0L887.2,446.5L887.4,446.0L887.6,445.4L887.9,444.8L888.1,444.2L888.3,443.6L888.5,443.0L888.7,442.3L888.9,441.7L889.1,441.0L889.3,440.3L889.5,439.6L889.8,438.9L890.0,438.2L890.2,437.4L890.4,436.7L890.6,435.9L890.8,435.2L891.0,434.4L891.2,433.6L891.5,432.9L891.7,432.1L891.9,431.4L892.1,430.7L892.3,430.0L892.5,429.3L892.7,428.6L892.9,428.0L893.1,427.4L893.4,426.9L893.6,426.4L893.8,425.9L894.0,425.5L894.2,425.2L894.4,424.9L894.6,424.7L894.8,424.6L895.0,424.5L895.3,424.5L895.5,424.5L895.7,424.7L895.9,424.9L896.1,425.1L896.3,425.4L896.5,425.8L896.7,426.3L896.9,426.7L897.2,427.3L897.4,427.9L897.6,428.5L897.8,429.1L898.0,429.8L898.2,430.5L898.4,431.2L898.6,432.0L898.8,432.7L899.1,433.5L899.3,434.2L899.5,435.0L899.7,435.8L899.9,436.5L900.1,437.3L900.3,438.0L900.5,438.7L900.8,439.5L901.0,440.2L901.2,440.9L901.4,441.5L901.6,442.2L901.8,442.9L902.0,443.5L902.2,444.1L902.4,444.7L902.7,445.3L902.9,445.8L903.1,446.4L903.3,446.9L903.5,447.4L903.7,447.9L903.9,448.4L904.1,448.9L904.3,449.3L904.6,449.8L904.8,450.2L905.0,450.6L905.2,451.0L905.4,451.4L905.6,451.8L905.8,452.1L906.0,452.5L906.2,452.8L906.5,453.2L906.7,453.5L906.9,453.8L907.1,454.1L907.3,454.4L907.5,454.7L907.7,454.9L907.9,455.2L908.1,455.5L908.4,455.7L908.6,455.9L908.8,456.2L909.0,456.4L909.2,456.6L909.4,456.8L909.6,457.1L909.8,457.3L910.1,457.5L910.3,457.6L910.5,457.8L910.7,458.0L910.9,458.2L911.1,458.4L911.3,458.5L911.5,458.7L911.7,458.9L912.0,459.0L912.2,459.2L912.4,459.3L912.6,459.5L912.8,459.6L913.0,459.7L913.2,459.9L913.4,460.0L913.6,460.1L913.9,460.3L914.1,460.4L914.3,460.5L914.5,460.6L914.7,460.7L914.9,460.8L915.1,461.0L915.3,461.1L915.5,461.2L915.8,461.3L916.0,461.4L916.2,461.5L916.4,461.6L916.6,461.7L916.8,461.8L917.0,461.8L917.2,461.9L917.4,462.0L917.7,462.1L917.9,462.2L918.1,462.3L918.3,462.3L918.5,462.4L918.7,462.5L918.9,462.6L919.1,462.7L919.4,462.7L919.6,462.8L919.8,462.9L920.0,462.9L920.2,463.0L920.4,463.1L920.6,463.1L920.8,463.2L921.0,463.3L921.3,463.3L921.5,463.4L921.7,463.5L921.9,463.5L922.1,463.6L922.3,463.6L922.5,463.7L922.7,463.7L922.9,463.8L923.2,463.9L923.4,463.9L923.6,464.0L923.8,464.0L924.0,464.1L924.2,464.1L924.4,464.2L924.6,464.2L924.8,464.3L925.1,464.3L925.3,464.4L925.5,464.4L925.7,464.4L925.9,464.5L926.1,464.5L926.3,464.6L926.5,464.6L926.7,464.7L927.0,464.7L927.2,464.7L927.4,464.8L927.6,464.8L927.8,464.9L928.0,464.9L928.2,464.9L928.4,465.0L928.7,465.0L928.9,465.0L929.1,465.1L929.3,465.1L929.5,465.2L929.7,465.2L929.9,465.2L930.1,465.3L930.3,465.3L930.6,465.3L930.8,465.4L931.0,465.4L931.2,465.4L931.4,465.4L931.6,465.5L931.8,465.5L932.0,465.5L932.2,465.6L932.5,465.6L932.7,465.6L932.9,465.7L933.1,465.7L933.3,465.7L933.5,465.7L933.7,465.8L933.9,465.8L934.1,465.8L934.4,465.8L934.6,465.9L934.8,465.9L935.0,465.9L935.2,465.9L935.4,466.0L935.6,466.0L935.8,466.0L936.0,466.0L936.3,466.1L936.5,466.1L936.7,466.1L936.9,466.1L937.1,466.2L937.3,466.2L937.5,466.2L937.7,466.2L937.9,466.2L938.2,466.3L938.4,466.3L938.6,466.3L938.8,466.3L939.0,466.3L939.2,466.4L939.4,466.4L939.6,466.4L939.9,466.4L940.1,466.4L940.3,466.5L940.5,466.5L940.7,466.5L940.9,466.5L941.1,466.5L941.3,466.6L941.5,466.6L941.8,466.6L942.0,466.6L942.2,466.6L942.4,466.6L942.6,466.7L942.8,466.7L943.0,466.7L943.2,466.7L943.4,466.7L943.7,466.7L943.9,466.7L944.1,466.8L944.3,466.8L944.5,466.8L944.7,466.8L944.9,466.8L945.1,466.8L945.3,466.9L945.6,466.9L945.8,466.9L946.0,466.9L946.2,466.9L946.4,466.9L946.6,466.9L946.8,467.0L947.0,467.0L947.2,467.0L947.5,467.0L947.7,467.0L947.9,467.0L948.1,467.0L948.3,467.0L948.5,467.1L948.7,467.1L948.9,467.1L949.2,467.1L949.4,467.1L949.6,467.1L949.8,467.1L950.0,467.1L950.2,467.2L950.4,467.2L950.6,467.2L950.8,467.2L951.1,467.2L951.3,467.2L951.5,467.2L951.7,467.2L951.9,467.2L952.1,467.3L952.3,467.3L952.5,467.3L952.7,467.3L953.0,467.3L953.2,467.3L953.4,467.3L953.6,467.3L953.8,467.3L954.0,467.3L954.2,467.4L954.4,467.4L954.6,467.4L954.9,467.4L955.1,467.4L955.3,467.4L955.5,467.4L955.7,467.4L955.9,467.4L956.1,467.4L956.3,467.4L956.5,467.5L956.8,467.5L957.0,467.5L957.2,467.5L957.4,467.5L957.6,467.5L957.8,467.5L958.0,467.5L958.2,467.5L958.5,467.5L958.7,467.5L958.9,467.5L959.1,467.6L959.3,467.6L959.5,467.6L959.7,467.6L959.9,467.6L960.1,467.6L960.4,467.6L960.6,467.6L960.8,467.6L961.0,467.6L961.2,467.6L961.4,467.6L961.6,467.6L961.8,467.7L962.0,467.7L962.3,467.7L962.5,467.7L962.7,467.7L962.9,467.7L963.1,467.7L963.3,467.7L963.5,467.7L963.7,467.7L963.9,467.7L964.2,467.7L964.4,467.7L964.6,467.7L964.8,467.7L965.0,467.8L965.2,467.8L965.4,467.8L965.6,467.8L965.8,467.8L966.1,467.8L966.3,467.8L966.5,467.8L966.7,467.8L966.9,467.8L967.1,467.8L967.3,467.8L967.5,467.8L967.8,467.8L968.0,467.8L968.2,467.8L968.4,467.8L968.6,467.9L968.8,467.9L969.0,467.9L969.2,467.9L969.4,467.9L969.7,467.9L969.9,467.9L970.1,467.9L970.3,467.9L970.5,467.9L970.7,467.9L970.9,467.9L971.1,467.9L971.3,467.9L971.6,467.9L971.8,467.9L972.0,467.9L972.2,467.9L972.4,467.9" fill="none" stroke="#f59848" stroke-width="1.2" stroke-linejoin="round"/>
<path d="M845.8,465.9L846.0,465.9L846.2,465.9L846.4,465.9L846.6,465.9L846.9,465.9L847.1,465.9L847.3,465.9L847.5,465.9L847.7,465.8L847.9,465.8L848.1,465.8L848.3,465.8L848.5,465.8L848.8,465.8L849.0,465.8L849.2,465.8L849.4,465.7L849.6,465.7L849.8,465.7L850.0,465.7L850.2,465.7L850.4,465.7L850.7,465.7L850.9,465.7L851.1,465.6L851.3,465.6L851.5,465.6L851.7,465.6L851.9,465.6L852.1,465.6L852.4,465.6L852.6,465.5L852.8,465.5L853.0,465.5L853.2,465.5L853.4,465.5L853.6,465.5L853.8,465.4L854.0,465.4L854.3,465.4L854.5,465.4L854.7,465.4L854.9,465.4L855.1,465.3L855.3,465.3L855.5,465.3L855.7,465.3L855.9,465.3L856.2,465.3L856.4,465.2L856.6,465.2L856.8,465.2L857.0,465.2L857.2,465.2L857.4,465.1L857.6,465.1L857.8,465.1L858.1,465.1L858.3,465.1L858.5,465.0L858.7,465.0L858.9,465.0L859.1,465.0L859.3,464.9L859.5,464.9L859.7,464.9L860.0,464.9L860.2,464.9L860.4,464.8L860.6,464.8L860.8,464.8L861.0,464.8L861.2,464.7L861.4,464.7L861.7,464.7L861.9,464.6L862.1,464.6L862.3,464.6L862.5,464.6L862.7,464.5L862.9,464.5L863.1,464.5L863.3,464.5L863.6,464.4L863.8,464.4L864.0,464.4L864.2,464.3L864.4,464.3L864.6,464.3L864.8,464.2L865.0,464.2L865.2,464.2L865.5,464.1L865.7,464.1L865.9,464.1L866.1,464.0L866.3,464.0L866.5,464.0L866.7,463.9L866.9,463.9L867.1,463.8L867.4,463.8L867.6,463.8L867.8,463.7L868.0,463.7L868.2,463.6L868.4,463.6L868.6,463.6L868.8,463.5L869.0,463.5L869.3,463.4L869.5,463.4L869.7,463.3L869.9,463.3L870.1,463.2L870.3,463.2L870.5,463.1L870.7,463.1L871.0,463.0L871.2,463.0L871.4,462.9L871.6,462.9L871.8,462.8L872.0,462.8L872.2,462.7L872.4,462.6L872.6,462.6L872.9,462.5L873.1,462.5L873.3,462.4L873.5,462.3L873.7,462.3L873.9,462.2L874.1,462.1L874.3,462.1L874.5,462.0L874.8,461.9L875.0,461.8L875.2,461.8L875.4,461.7L875.6,461.6L875.8,461.5L876.0,461.5L876.2,461.4L876.4,461.3L876.7,461.2L876.9,461.1L877.1,461.0L877.3,460.9L877.5,460.8L877.7,460.7L877.9,460.6L878.1,460.6L878.3,460.4L878.6,460.3L878.8,460.2L879.0,460.1L879.2,460.0L879.4,459.9L879.6,459.8L879.8,459.7L880.0,459.6L880.3,459.4L880.5,459.3L880.7,459.2L880.9,459.1L881.1,458.9L881.3,458.8L881.5,458.6L881.7,458.5L881.9,458.3L882.2,458.2L882.4,458.0L882.6,457.9L882.8,457.7L883.0,457.6L883.2,457.4L883.4,457.2L883.6,457.0L883.8,456.9L884.1,456.7L884.3,456.5L884.5,456.3L884.7,456.1L884.9,455.9L885.1,455.6L885.3,455.4L885.5,455.2L885.7,455.0L886.0,454.7L886.2,454.5L886.4,454.2L886.6,454.0L886.8,453.7L887.0,453.4L887.2,453.1L887.4,452.9L887.6,452.6L887.9,452.2L888.1,451.9L888.3,451.6L888.5,451.3L888.7,450.9L888.9,450.5L889.1,450.2L889.3,449.8L889.5,449.4L889.8,449.0L890.0,448.5L890.2,448.1L890.4,447.6L890.6,447.1L890.8,446.6L891.0,446.1L891.2,445.6L891.5,445.0L891.7,444.4L891.9,443.8L892.1,443.2L892.3,442.5L892.5,441.8L892.7,441.1L892.9,440.4L893.1,439.6L893.4,438.8L893.6,437.9L893.8,437.0L894.0,436.0L894.2,435.0L894.4,434.0L894.6,432.9L894.8,431.7L895.0,430.4L895.3,429.1L895.5,427.7L895.7,426.2L895.9,424.7L896.1,423.0L896.3,421.2L896.5,419.4L896.7,417.4L896.9,415.2L897.2,412.9L897.4,410.5L897.6,407.9L897.8,405.2L898.0,402.2L898.2,399.1L898.4,395.8L898.6,392.2L898.8,388.5L899.1,384.5L899.3,380.4L899.5,376.0L899.7,371.5L899.9,366.8L900.1,362.0L900.3,357.2L900.5,352.4L900.8,347.7L901.0,343.3L901.2,339.1L901.4,335.4L901.6,332.2L901.8,329.8L902.0,328.0L902.2,327.1L902.4,327.1L902.7,327.9L902.9,329.5L903.1,331.9L903.3,335.0L903.5,338.7L903.7,342.8L903.9,347.2L904.1,351.9L904.3,356.7L904.6,361.5L904.8,366.3L905.0,371.0L905.2,375.5L905.4,379.9L905.6,384.1L905.8,388.1L906.0,391.8L906.2,395.4L906.5,398.8L906.7,401.9L906.9,404.9L907.1,407.6L907.3,410.3L907.5,412.7L907.7,415.0L907.9,417.1L908.1,419.2L908.4,421.0L908.6,422.8L908.8,424.5L909.0,426.1L909.2,427.6L909.4,429.0L909.6,430.3L909.8,431.5L910.1,432.7L910.3,433.9L910.5,434.9L910.7,435.9L910.9,436.9L911.1,437.8L911.3,438.7L911.5,439.5L911.7,440.3L912.0,441.1L912.2,441.8L912.4,442.5L912.6,443.1L912.8,443.8L913.0,444.4L913.2,445.0L913.4,445.5L913.6,446.1L913.9,446.6L914.1,447.1L914.3,447.6L914.5,448.0L914.7,448.5L914.9,448.9L915.1,449.3L915.3,449.7L915.5,450.1L915.8,450.5L916.0,450.9L916.2,451.2L916.4,451.6L916.6,451.9L916.8,452.2L917.0,452.5L917.2,452.8L917.4,453.1L917.7,453.4L917.9,453.7L918.1,453.9L918.3,454.2L918.5,454.5L918.7,454.7L918.9,454.9L919.1,455.2L919.4,455.4L919.6,455.6L919.8,455.8L920.0,456.0L920.2,456.3L920.4,456.4L920.6,456.6L920.8,456.8L921.0,457.0L921.3,457.2L921.5,457.4L921.7,457.5L921.9,457.7L922.1,457.9L922.3,458.0L922.5,458.2L922.7,458.3L922.9,458.5L923.2,458.6L923.4,458.8L923.6,458.9L923.8,459.0L924.0,459.2L924.2,459.3L924.4,459.4L924.6,459.5L924.8,459.7L925.1,459.8L925.3,459.9L925.5,460.0L925.7,460.1L925.9,460.2L926.1,460.3L926.3,460.4L926.5,460.5L926.7,460.6L927.0,460.7L927.2,460.8L927.4,460.9L927.6,461.0L927.8,461.1L928.0,461.2L928.2,461.3L928.4,461.4L928.7,461.4L928.9,461.5L929.1,461.6L929.3,461.7L929.5,461.8L929.7,461.8L929.9,461.9L930.1,462.0L930.3,462.0L930.6,462.1L930.8,462.2L931.0,462.3L931.2,462.3L931.4,462.4L931.6,462.4L931.8,462.5L932.0,462.6L932.2,462.6L932.5,462.7L932.7,462.7L932.9,462.8L933.1,462.9L933.3,462.9L933.5,463.0L933.7,463.0L933.9,463.1L934.1,463.1L934.4,463.2L934.6,463.2L934.8,463.3L935.0,463.3L935.2,463.4L935.4,463.4L935.6,463.5L935.8,463.5L936.0,463.5L936.3,463.6L936.5,463.6L936.7,463.7L936.9,463.7L937.1,463.8L937.3,463.8L937.5,463.8L937.7,463.9L937.9,463.9L938.2,463.9L938.4,464.0L938.6,464.0L938.8,464.1L939.0,464.1L939.2,464.1L939.4,464.2L939.6,464.2L939.9,464.2L940.1,464.3L940.3,464.3L940.5,464.3L940.7,464.4L940.9,464.4L941.1,464.4L941.3,464.4L941.5,464.5L941.8,464.5L942.0,464.5L942.2,464.6L942.4,464.6L942.6,464.6L942.8,464.6L943.0,464.7L943.2,464.7L943.4,464.7L943.7,464.7L943.9,464.8L944.1,464.8L944.3,464.8L944.5,464.8L944.7,464.9L944.9,464.9L945.1,464.9L945.3,464.9L945.6,465.0L945.8,465.0L946.0,465.0L946.2,465.0L946.4,465.1L946.6,465.1L946.8,465.1L947.0,465.1L947.2,465.1L947.5,465.2L947.7,465.2L947.9,465.2L948.1,465.2L948.3,465.2L948.5,465.3L948.7,465.3L948.9,465.3L949.2,465.3L949.4,465.3L949.6,465.3L949.8,465.4L950.0,465.4L950.2,465.4L950.4,465.4L950.6,465.4L950.8,465.4L951.1,465.5L951.3,465.5L951.5,465.5L951.7,465.5L951.9,465.5L952.1,465.5L952.3,465.6L952.5,465.6L952.7,465.6L953.0,465.6L953.2,465.6L953.4,465.6L953.6,465.6L953.8,465.7L954.0,465.7L954.2,465.7L954.4,465.7L954.6,465.7L954.9,465.7L955.1,465.7L955.3,465.7L955.5,465.8L955.7,465.8L955.9,465.8L956.1,465.8L956.3,465.8L956.5,465.8L956.8,465.8L957.0,465.8L957.2,465.9L957.4,465.9L957.6,465.9L957.8,465.9L958.0,465.9L958.2,465.9L958.5,465.9L958.7,465.9L958.9,465.9L959.1,466.0L959.3,466.0L959.5,466.0L959.7,466.0L959.9,466.0L960.1,466.0L960.4,466.0L960.6,466.0L960.8,466.0L961.0,466.0L961.2,466.1L961.4,466.1L961.6,466.1L961.8,466.1L962.0,466.1L962.3,466.1L962.5,466.1L962.7,466.1L962.9,466.1L963.1,466.1L963.3,466.1L963.5,466.2L963.7,466.2L963.9,466.2L964.2,466.2L964.4,466.2L964.6,466.2L964.8,466.2L965.0,466.2L965.2,466.2L965.4,466.2L965.6,466.2L965.8,466.2L966.1,466.2L966.3,466.3L966.5,466.3L966.7,466.3L966.9,466.3L967.1,466.3L967.3,466.3L967.5,466.3L967.8,466.3L968.0,466.3L968.2,466.3L968.4,466.3L968.6,466.3L968.8,466.3L969.0,466.3L969.2,466.4L969.4,466.4L969.7,466.4L969.9,466.4L970.1,466.4L970.3,466.4L970.5,466.4L970.7,466.4L970.9,466.4L971.1,466.4L971.3,466.4L971.6,466.4L971.8,466.4L972.0,466.4L972.2,466.4L972.4,466.4" fill="none" stroke="#2e6e66" stroke-width="1.4" stroke-linejoin="round"/>
<rect x="836.5" y="316" width="35" height="46" fill="#fff" stroke="#eee" stroke-width="0.8"/>
<line x1="838" y1="322.6" x2="852" y2="322.6" stroke="#f5a0a0" stroke-width="1.8"/>
<text transform="translate(854.00,325.40)" font-size="7.50" font-weight="bold" text-anchor="start" fill="#222" textLength="16.00" lengthAdjust="spacingAndGlyphs" stroke="#222" stroke-width="0.25">x=0.1</text>
<line x1="838" y1="334.0" x2="852" y2="334.0" stroke="#34dd34" stroke-width="1.8"/>
<text transform="translate(854.00,336.80)" font-size="7.50" font-weight="bold" text-anchor="start" fill="#222" textLength="16.00" lengthAdjust="spacingAndGlyphs" stroke="#222" stroke-width="0.25">x=0.2</text>
<line x1="838" y1="344.5" x2="852" y2="344.5" stroke="#f59848" stroke-width="1.8"/>
<text transform="translate(854.00,347.30)" font-size="7.50" font-weight="bold" text-anchor="start" fill="#222" textLength="16.00" lengthAdjust="spacingAndGlyphs" stroke="#222" stroke-width="0.25">x=0.3</text>
<line x1="838" y1="355.0" x2="852" y2="355.0" stroke="#2e6e66" stroke-width="1.8"/>
<text transform="translate(854.00,357.80)" font-size="7.50" font-weight="bold" text-anchor="start" fill="#222" textLength="16.00" lengthAdjust="spacingAndGlyphs" stroke="#222" stroke-width="0.25">x=0.4</text>
<rect x="554.6" y="34.9" width="99.4" height="135" fill="#fff" stroke="#999" stroke-width="1.2"/>
<line x1="557.5" y1="53.8" x2="600" y2="53.8" stroke="#ee3a3a" stroke-width="3.2" stroke-linecap="round"/>
<text transform="translate(604.60,62.80)" font-size="25.00" font-weight="bold" text-anchor="start" fill="#111" textLength="45.00" lengthAdjust="spacingAndGlyphs" stroke="#111" stroke-width="0.70">x=0.1</text>
<line x1="557.5" y1="86.6" x2="600" y2="86.6" stroke="#14e614" stroke-width="3.2" stroke-linecap="round"/>
<text transform="translate(604.60,95.60)" font-size="25.00" font-weight="bold" text-anchor="start" fill="#111" textLength="45.00" lengthAdjust="spacingAndGlyphs" stroke="#111" stroke-width="0.70">x=0.2</text>
<line x1="557.5" y1="119.1" x2="600" y2="119.1" stroke="#f28a36" stroke-width="3.2" stroke-linecap="round"/>
<text transform="translate(604.60,128.10)" font-size="25.00" font-weight="bold" text-anchor="start" fill="#111" textLength="45.00" lengthAdjust="spacingAndGlyphs" stroke="#111" stroke-width="0.70">x=0.3</text>
<line x1="557.5" y1="152.2" x2="600" y2="152.2" stroke="#0b5434" stroke-width="3.2" stroke-linecap="round"/>
<text transform="translate(604.60,161.20)" font-size="25.00" font-weight="bold" text-anchor="start" fill="#111" textLength="45.00" lengthAdjust="spacingAndGlyphs" stroke="#111" stroke-width="0.70">x=0.4</text>
<text transform="translate(700.50,612.90)" font-size="26.60" font-weight="bold" text-anchor="start" fill="#111" textLength="160.00" lengthAdjust="spacingAndGlyphs" stroke="#111" stroke-width="0.40">Applied Field (Oe)</text>
<text transform="translate(492.80,421.30) rotate(-90)" font-size="18.60" font-weight="bold" text-anchor="start" fill="#111" textLength="274.50" lengthAdjust="spacingAndGlyphs">Magnetization (emu/g)</text>
<text transform="translate(484.00,24.50)" font-size="30.00" font-weight="bold" text-anchor="start" fill="#111" textLength="29.00" lengthAdjust="spacingAndGlyphs">(b)</text>
</svg></body></html>
